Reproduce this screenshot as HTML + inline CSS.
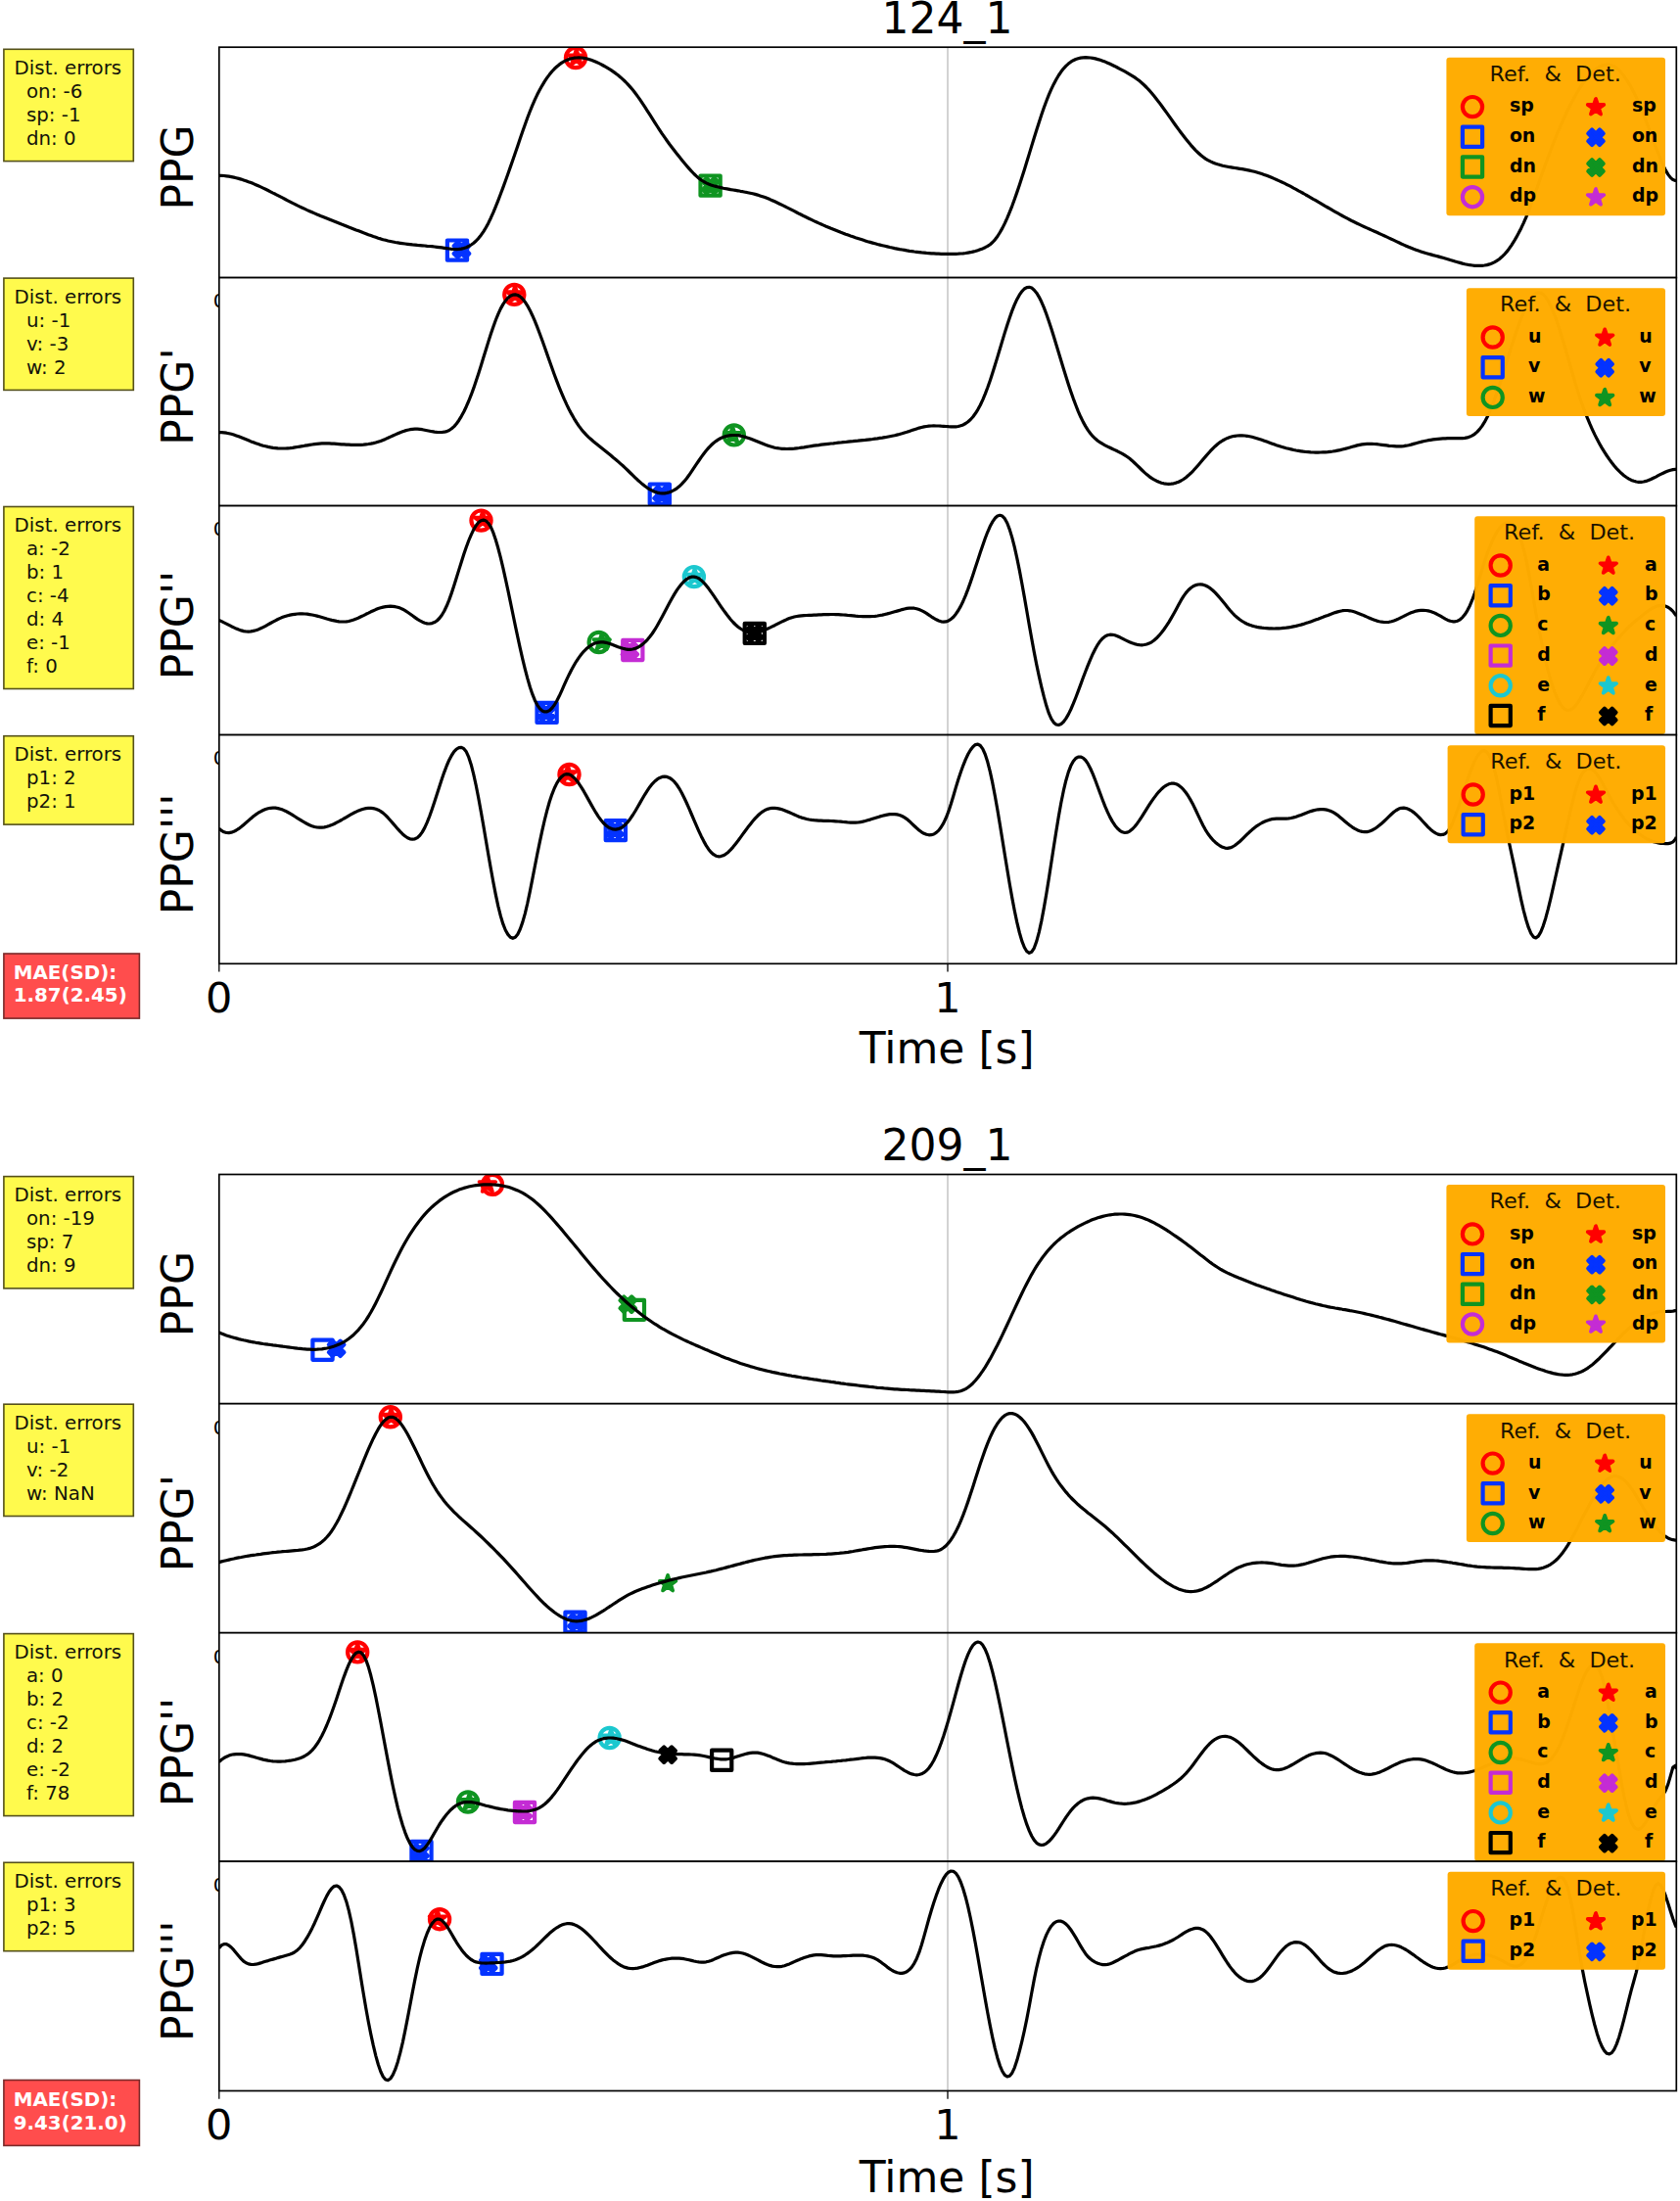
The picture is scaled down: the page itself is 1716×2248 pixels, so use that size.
<!DOCTYPE html>
<html><head><meta charset="utf-8"><title>PPG fiducial points</title>
<style>html,body{margin:0;padding:0;background:#fff}svg{display:block}</style>
</head><body>
<svg width="1716" height="2248" viewBox="0 0 1716 2248">
<rect width="1716" height="2248" fill="#fff"/>
<text x="967.5" y="34" font-family="'DejaVu Sans','Liberation Sans',sans-serif" font-size="44" text-anchor="middle" fill="#000">124_1</text>
<clipPath id="c_p1_ppg"><rect x="223.8" y="48.2" width="1488.5" height="235.4"/></clipPath>
<rect x="223.8" y="48.2" width="1488.5" height="235.4" fill="#fff"/>
<g clip-path="url(#c_p1_ppg)">
<line x1="968" y1="48.2" x2="968" y2="283.6" stroke="#9c9c9c" stroke-width="0.9"/>
<circle cx="588" cy="59" r="10.1" fill="none" stroke="#FF0000" stroke-width="4.2"/>
<rect x="456.9" y="245.5" width="20.2" height="20.2" fill="none" stroke="#0433FF" stroke-width="4.2" stroke-linejoin="round"/>
<rect x="715.5" y="179.5" width="20.2" height="20.2" fill="none" stroke="#0F9421" stroke-width="4.2" stroke-linejoin="round"/>
<path d="M588.7,50.3 586.8,56.3 580.5,56.3 585.6,60 583.6,66 588.7,62.3 593.9,66 591.9,60 597,56.3 590.7,56.3Z" fill="#FF0000" stroke="#FF0000" stroke-width="3.7" stroke-linejoin="round"/>
<path d="M467.5,247.2 471.5,251.2 475.4,247.2 479.3,251.2 475.4,255.1 479.3,259 475.4,262.9 471.5,259 467.5,262.9 463.6,259 467.5,255.1 463.6,251.2Z" fill="#0433FF" stroke="#0433FF" stroke-width="4.0" stroke-linejoin="round"/>
<path d="M721.7,181.8 725.6,185.7 729.5,181.8 733.5,185.7 729.5,189.6 733.5,193.6 729.5,197.5 725.6,193.6 721.7,197.5 717.8,193.6 721.7,189.6 717.8,185.7Z" fill="#0F9421" stroke="#0F9421" stroke-width="4.0" stroke-linejoin="round"/>
<path d="M223.8,179.3 226.3,179.4 228.8,179.5 231.3,179.8 233.8,180.2 236.3,180.6 238.8,181.1 241.3,181.7 243.8,182.4 246.3,183.1 248.8,183.9 251.3,184.7 253.8,185.7 256.3,186.6 258.8,187.6 261.3,188.7 263.8,189.8 266.3,190.9 268.8,192.1 271.3,193.3 273.8,194.5 276.3,195.8 278.8,197.1 281.3,198.3 283.8,199.6 286.3,200.9 288.8,202.2 291.3,203.5 293.8,204.8 296.3,206.1 298.8,207.4 301.3,208.6 303.8,209.9 306.3,211.1 308.8,212.3 311.3,213.4 313.8,214.6 316.3,215.7 318.8,216.8 321.3,217.9 323.8,219 326.3,220 328.8,221.1 331.3,222.1 333.8,223.1 336.3,224.1 338.8,225.1 341.3,226.1 343.8,227.1 346.3,228.1 348.8,229.1 351.3,230 353.8,231 356.3,232 358.8,232.9 361.3,233.9 363.8,234.9 366.3,235.8 368.8,236.8 371.3,237.8 373.8,238.7 376.3,239.7 378.8,240.6 381.3,241.5 383.8,242.3 386.3,243.2 388.8,243.9 391.3,244.7 393.8,245.3 396.3,246 398.8,246.5 401.3,247 403.8,247.5 406.3,247.9 408.8,248.3 411.3,248.7 413.8,249 416.3,249.3 418.8,249.6 421.3,249.9 423.8,250.1 426.3,250.4 428.8,250.6 431.3,250.8 433.8,251 436.3,251.3 438.8,251.5 441.3,251.7 443.8,252 446.3,252.3 448.8,252.6 451.3,252.9 453.8,253.3 456.3,253.7 458.8,254 461.3,254.3 463.8,254.5 466.3,254.6 468.8,254.4 471.3,254.1 473.8,253.5 476.3,252.7 478.8,251.5 481.3,250 483.8,248.2 486.3,246 488.8,243.3 491.3,240.2 493.8,236.6 496.3,232.5 498.8,227.9 501.3,222.7 503.8,217.1 506.3,211.1 508.8,204.8 511.3,198.3 513.8,191.6 516.3,184.7 518.8,177.7 521.3,170.6 523.8,163.4 526.3,156.2 528.8,148.9 531.3,141.5 533.8,134.3 536.3,127.2 538.8,120.3 541.3,113.8 543.8,107.6 546.3,101.9 548.8,96.6 551.3,91.8 553.8,87.3 556.3,83.2 558.8,79.4 561.3,76.1 563.8,73 566.3,70.3 568.8,68 571.3,65.9 573.8,64.1 576.3,62.6 578.8,61.4 581.3,60.4 583.8,59.7 586.3,59.2 588.8,59 591.3,58.9 593.8,59 596.3,59.3 598.8,59.8 601.3,60.5 603.8,61.3 606.3,62.2 608.8,63.2 611.3,64.4 613.8,65.6 616.3,67 618.8,68.4 621.3,69.9 623.8,71.4 626.3,73.1 628.8,74.9 631.3,76.8 633.8,78.9 636.3,81.1 638.8,83.5 641.3,86.1 643.8,88.9 646.3,91.8 648.8,95 651.3,98.4 653.8,101.9 656.3,105.6 658.8,109.4 661.3,113.3 663.8,117.2 666.3,121.1 668.8,125.1 671.3,129 673.8,132.8 676.3,136.6 678.8,140.2 681.3,143.7 683.8,147.2 686.3,150.5 688.8,153.8 691.3,157 693.8,160.1 696.3,163.2 698.8,166.2 701.3,169.2 703.8,172.1 706.3,174.9 708.8,177.5 711.3,179.9 713.8,182.1 716.3,184 718.8,185.5 721.3,186.9 723.8,188 726.3,188.9 728.8,189.7 731.3,190.4 733.8,191 736.3,191.6 738.8,192.2 741.3,192.7 743.8,193.1 746.3,193.6 748.8,194 751.3,194.4 753.8,194.8 756.3,195.3 758.8,195.7 761.3,196.2 763.8,196.7 766.3,197.2 768.8,197.8 771.3,198.4 773.8,199.1 776.3,199.9 778.8,200.7 781.3,201.6 783.8,202.6 786.3,203.6 788.8,204.7 791.3,205.8 793.8,207 796.3,208.2 798.8,209.4 801.3,210.6 803.8,211.9 806.3,213.1 808.8,214.4 811.3,215.7 813.8,217 816.3,218.3 818.8,219.5 821.3,220.8 823.8,222 826.3,223.2 828.8,224.4 831.3,225.6 833.8,226.7 836.3,227.9 838.8,229 841.3,230.1 843.8,231.2 846.3,232.2 848.8,233.3 851.3,234.3 853.8,235.3 856.3,236.3 858.8,237.3 861.3,238.2 863.8,239.2 866.3,240.1 868.8,241 871.3,241.8 873.8,242.7 876.3,243.5 878.8,244.3 881.3,245.1 883.8,245.9 886.3,246.7 888.8,247.4 891.3,248.1 893.8,248.8 896.3,249.5 898.8,250.1 901.3,250.7 903.8,251.3 906.3,251.9 908.8,252.5 911.3,253 913.8,253.6 916.3,254.1 918.8,254.6 921.3,255 923.8,255.4 926.3,255.9 928.8,256.3 931.3,256.6 933.8,257 936.3,257.3 938.8,257.6 941.3,257.9 943.8,258.1 946.3,258.4 948.8,258.6 951.3,258.8 953.8,258.9 956.3,259.1 958.8,259.2 961.3,259.3 963.8,259.4 966.3,259.4 968.8,259.4 971.3,259.4 973.8,259.4 976.3,259.3 978.8,259.2 981.3,259 983.8,258.8 986.3,258.5 988.8,258.1 991.3,257.7 993.8,257.1 996.3,256.5 998.8,255.7 1001.3,254.8 1003.8,253.9 1006.3,252.7 1008.8,251.4 1011.3,249.7 1013.8,247.5 1016.3,244.8 1018.8,241.5 1021.3,237.5 1023.8,233.1 1026.3,228.1 1028.8,222.6 1031.3,216.6 1033.8,210.3 1036.3,203.5 1038.8,196.4 1041.3,189 1043.8,181.3 1046.3,173.4 1048.8,165.3 1051.3,157.1 1053.8,148.9 1056.3,140.7 1058.8,132.7 1061.3,124.9 1063.8,117.3 1066.3,110.1 1068.8,103.3 1071.3,96.9 1073.8,91.1 1076.3,85.9 1078.8,81.2 1081.3,77 1083.8,73.3 1086.3,70.1 1088.8,67.4 1091.3,65.1 1093.8,63.2 1096.3,61.7 1098.8,60.5 1101.3,59.7 1103.8,59.1 1106.3,58.8 1108.8,58.7 1111.3,58.8 1113.8,59 1116.3,59.4 1118.8,59.9 1121.3,60.6 1123.8,61.3 1126.3,62.2 1128.8,63.1 1131.3,64.2 1133.8,65.3 1136.3,66.5 1138.8,67.7 1141.3,69 1143.8,70.3 1146.3,71.6 1148.8,72.9 1151.3,74.3 1153.8,75.8 1156.3,77.3 1158.8,78.9 1161.3,80.7 1163.8,82.6 1166.3,84.7 1168.8,87 1171.3,89.5 1173.8,92.2 1176.3,95 1178.8,98 1181.3,101.2 1183.8,104.4 1186.3,107.8 1188.8,111.2 1191.3,114.6 1193.8,118.1 1196.3,121.7 1198.8,125.2 1201.3,128.7 1203.8,132.1 1206.3,135.5 1208.8,138.8 1211.3,142 1213.8,145.1 1216.3,148.1 1218.8,150.9 1221.3,153.6 1223.8,156 1226.3,158.3 1228.8,160.3 1231.3,162.1 1233.8,163.6 1236.3,164.9 1238.8,166 1241.3,167 1243.8,167.8 1246.3,168.5 1248.8,169.2 1251.3,169.7 1253.8,170.2 1256.3,170.7 1258.8,171.1 1261.3,171.5 1263.8,171.9 1266.3,172.3 1268.8,172.7 1271.3,173.1 1273.8,173.6 1276.3,174.1 1278.8,174.7 1281.3,175.3 1283.8,176 1286.3,176.8 1288.8,177.6 1291.3,178.4 1293.8,179.3 1296.3,180.3 1298.8,181.3 1301.3,182.4 1303.8,183.5 1306.3,184.6 1308.8,185.7 1311.3,186.9 1313.8,188.2 1316.3,189.4 1318.8,190.7 1321.3,192.1 1323.8,193.4 1326.3,194.8 1328.8,196.1 1331.3,197.5 1333.8,199 1336.3,200.4 1338.8,201.8 1341.3,203.3 1343.8,204.7 1346.3,206.2 1348.8,207.6 1351.3,209.1 1353.8,210.6 1356.3,212 1358.8,213.4 1361.3,214.9 1363.8,216.3 1366.3,217.7 1368.8,219.1 1371.3,220.5 1373.8,221.8 1376.3,223.2 1378.8,224.5 1381.3,225.8 1383.8,227 1386.3,228.2 1388.8,229.4 1391.3,230.6 1393.8,231.8 1396.3,232.9 1398.8,234 1401.3,235.1 1403.8,236.2 1406.3,237.3 1408.8,238.5 1411.3,239.6 1413.8,240.7 1416.3,241.9 1418.8,243.1 1421.3,244.3 1423.8,245.4 1426.3,246.6 1428.8,247.8 1431.3,249 1433.8,250.1 1436.3,251.2 1438.8,252.3 1441.3,253.3 1443.8,254.3 1446.3,255.2 1448.8,256.1 1451.3,256.9 1453.8,257.7 1456.3,258.5 1458.8,259.2 1461.3,259.9 1463.8,260.6 1466.3,261.2 1468.8,261.9 1471.3,262.6 1473.8,263.3 1476.3,264 1478.8,264.7 1481.3,265.5 1483.8,266.2 1486.3,267 1488.8,267.7 1491.3,268.4 1493.8,269.1 1496.3,269.7 1498.8,270.2 1501.3,270.7 1503.8,271 1506.3,271.3 1508.8,271.4 1511.3,271.4 1513.8,271.3 1516.3,271 1518.8,270.6 1521.3,269.9 1523.8,269 1526.3,267.9 1528.8,266.4 1531.3,264.7 1533.8,262.6 1536.3,260.2 1538.8,257.4 1541.3,254.2 1543.8,250.6 1546.3,246.7 1548.8,242.4 1551.3,237.8 1553.8,232.9 1556.3,227.6 1558.8,221.9 1561.3,215.7 1563.8,209.2 1566.3,202.3 1568.8,195.3 1571.3,188.2 1573.8,181 1576.3,174 1578.8,167 1581.3,160.3 1583.8,153.7 1586.3,147.2 1588.8,140.9 1591.3,134.9 1593.8,129 1596.3,123.3 1598.8,117.8 1601.3,112.5 1603.8,107.5 1606.3,102.7 1608.8,98.1 1611.3,93.8 1613.8,89.8 1616.3,86 1618.8,82.5 1621.3,79.3 1623.8,76.4 1626.3,73.8 1628.8,71.5 1631.3,69.6 1633.8,68.1 1636.3,67 1638.8,66.3 1641.3,66 1643.8,66.2 1646.3,66.9 1648.8,68 1651.3,69.7 1653.8,71.9 1656.3,74.5 1658.8,77.6 1661.3,81.2 1663.8,85.1 1666.3,89.5 1668.8,94.3 1671.3,99.4 1673.8,104.9 1676.3,110.7 1678.8,116.8 1681.3,123.2 1683.8,129.9 1686.3,136.7 1688.8,143.5 1691.3,150.3 1693.8,156.8 1696.3,163 1698.8,168.8 1701.3,173.9 1703.8,178.1 1706.3,181.4 1708.8,183.6 1711.3,184.5 1712.3,184.4" fill="none" stroke="#000" stroke-width="3.2" stroke-linejoin="round" stroke-linecap="butt"/>
<rect x="1477.4" y="58.8" width="223.6" height="161.4" rx="3" ry="3" fill="#FFAC00" fill-opacity="0.985"/>
<text transform="translate(1588.7,83) scale(1.085,1)" font-family="'DejaVu Sans','Liberation Sans',sans-serif" font-size="20.6" text-anchor="middle" fill="#1a1200" xml:space="preserve">Ref.  &amp;  Det.</text>
<circle cx="1504" cy="109.1" r="10.1" fill="none" stroke="#FF0000" stroke-width="4.2"/>
<text transform="translate(1541.9,114.3) scale(0.945,1)" font-family="'DejaVu Sans','Liberation Sans',sans-serif" font-size="20.0" font-weight="bold" fill="#000">sp</text>
<path d="M1630,100.9 1628,106.9 1621.7,106.9 1626.8,110.6 1624.9,116.6 1630,112.9 1635.1,116.6 1633.2,110.6 1638.3,106.9 1632,106.9Z" fill="#FF0000" stroke="#FF0000" stroke-width="3.7" stroke-linejoin="round"/>
<text transform="translate(1666.9,114.3) scale(0.945,1)" font-family="'DejaVu Sans','Liberation Sans',sans-serif" font-size="20.0" font-weight="bold" fill="#000">sp</text>
<rect x="1493.9" y="129.7" width="20.2" height="20.2" fill="none" stroke="#0433FF" stroke-width="4.2" stroke-linejoin="round"/>
<text transform="translate(1541.9,145) scale(0.945,1)" font-family="'DejaVu Sans','Liberation Sans',sans-serif" font-size="20.0" font-weight="bold" fill="#000">on</text>
<path d="M1626.1,132.4 1630,136.4 1633.9,132.4 1637.8,136.4 1633.9,140.3 1637.8,144.2 1633.9,148.1 1630,144.2 1626.1,148.1 1622.2,144.2 1626.1,140.3 1622.2,136.4Z" fill="#0433FF" stroke="#0433FF" stroke-width="4.0" stroke-linejoin="round"/>
<text transform="translate(1666.9,145) scale(0.945,1)" font-family="'DejaVu Sans','Liberation Sans',sans-serif" font-size="20.0" font-weight="bold" fill="#000">on</text>
<rect x="1493.9" y="160.4" width="20.2" height="20.2" fill="none" stroke="#0F9421" stroke-width="4.2" stroke-linejoin="round"/>
<text transform="translate(1541.9,175.7) scale(0.945,1)" font-family="'DejaVu Sans','Liberation Sans',sans-serif" font-size="20.0" font-weight="bold" fill="#000">dn</text>
<path d="M1626.1,163.2 1630,167.1 1633.9,163.2 1637.8,167.1 1633.9,171 1637.8,174.9 1633.9,178.8 1630,174.9 1626.1,178.8 1622.2,174.9 1626.1,171 1622.2,167.1Z" fill="#0F9421" stroke="#0F9421" stroke-width="4.0" stroke-linejoin="round"/>
<text transform="translate(1666.9,175.7) scale(0.945,1)" font-family="'DejaVu Sans','Liberation Sans',sans-serif" font-size="20.0" font-weight="bold" fill="#000">dn</text>
<circle cx="1504" cy="201.2" r="10.1" fill="none" stroke="#C42CD4" stroke-width="4.2"/>
<text transform="translate(1541.9,206.4) scale(0.945,1)" font-family="'DejaVu Sans','Liberation Sans',sans-serif" font-size="20.0" font-weight="bold" fill="#000">dp</text>
<path d="M1630,193 1628,199 1621.7,199 1626.8,202.7 1624.9,208.7 1630,205 1635.1,208.7 1633.2,202.7 1638.3,199 1632,199Z" fill="#C42CD4" stroke="#C42CD4" stroke-width="3.7" stroke-linejoin="round"/>
<text transform="translate(1666.9,206.4) scale(0.945,1)" font-family="'DejaVu Sans','Liberation Sans',sans-serif" font-size="20.0" font-weight="bold" fill="#000">dp</text>
</g>
<rect x="223.8" y="48.2" width="1488.5" height="235.4" fill="none" stroke="#000" stroke-width="1.7"/>
<text transform="translate(197.4,170.9) rotate(-90)" font-family="'DejaVu Sans','Liberation Sans',sans-serif" font-size="44" text-anchor="middle" fill="#000">PPG</text>
<rect x="3.9" y="50.3" width="132.4" height="114.3" fill="#FFFA4D" stroke="#55511a" stroke-width="1.6"/>
<text x="14.6" y="76" font-family="'DejaVu Sans','Liberation Sans',sans-serif" font-size="19.8" fill="#14140a">Dist. errors</text>
<text x="27" y="99.9" font-family="'DejaVu Sans','Liberation Sans',sans-serif" font-size="19.8" fill="#14140a">on: -6</text>
<text x="27" y="123.8" font-family="'DejaVu Sans','Liberation Sans',sans-serif" font-size="19.8" fill="#14140a">sp: -1</text>
<text x="27" y="147.7" font-family="'DejaVu Sans','Liberation Sans',sans-serif" font-size="19.8" fill="#14140a">dn: 0</text>
<text x="224.1" y="314.4" font-family="'DejaVu Sans','Liberation Sans',sans-serif" font-size="20" text-anchor="middle" fill="#000">0</text>
<clipPath id="c_p1_d1"><rect x="223.8" y="283.6" width="1488.5" height="233"/></clipPath>
<rect x="223.8" y="283.6" width="1488.5" height="233" fill="#fff"/>
<g clip-path="url(#c_p1_d1)">
<line x1="968" y1="283.6" x2="968" y2="516.6" stroke="#9c9c9c" stroke-width="0.9"/>
<circle cx="525.3" cy="300.9" r="10.1" fill="none" stroke="#FF0000" stroke-width="4.2"/>
<rect x="663.7" y="494.5" width="20.2" height="20.2" fill="none" stroke="#0433FF" stroke-width="4.2" stroke-linejoin="round"/>
<circle cx="749.8" cy="444.4" r="10.1" fill="none" stroke="#0F9421" stroke-width="4.2"/>
<path d="M526,292.2 524.1,298.2 517.8,298.2 522.9,301.9 520.9,307.9 526,304.2 531.2,307.9 529.2,301.9 534.3,298.2 528,298.2Z" fill="#FF0000" stroke="#FF0000" stroke-width="3.7" stroke-linejoin="round"/>
<path d="M672.1,497 676,500.9 680,497 683.9,500.9 680,504.8 683.9,508.8 680,512.7 676,508.8 672.1,512.7 668.2,508.8 672.1,504.8 668.2,500.9Z" fill="#0433FF" stroke="#0433FF" stroke-width="4.0" stroke-linejoin="round"/>
<path d="M748.3,435.8 746.4,441.8 740,441.8 745.2,445.5 743.2,451.5 748.3,447.8 753.4,451.5 751.5,445.5 756.6,441.8 750.3,441.8Z" fill="#0F9421" stroke="#0F9421" stroke-width="3.7" stroke-linejoin="round"/>
<path d="M223.8,441.7 226.3,441.7 228.8,441.8 231.3,442.2 233.8,442.7 236.3,443.3 238.8,444 241.3,444.9 243.8,445.8 246.3,446.8 248.8,447.8 251.3,448.8 253.8,449.8 256.3,450.9 258.8,451.8 261.3,452.8 263.8,453.6 266.3,454.4 268.8,455.2 271.3,455.8 273.8,456.4 276.3,456.9 278.8,457.3 281.3,457.6 283.8,457.9 286.3,458 288.8,458 291.3,458 293.8,457.8 296.3,457.6 298.8,457.3 301.3,456.9 303.8,456.5 306.3,456.1 308.8,455.7 311.3,455.2 313.8,454.8 316.3,454.4 318.8,454 321.3,453.6 323.8,453.3 326.3,453.1 328.8,452.9 331.3,452.9 333.8,452.9 336.3,452.9 338.8,453.1 341.3,453.2 343.8,453.4 346.3,453.6 348.8,453.8 351.3,453.9 353.8,454.1 356.3,454.2 358.8,454.3 361.3,454.4 363.8,454.4 366.3,454.4 368.8,454.3 371.3,454.1 373.8,453.8 376.3,453.5 378.8,453.1 381.3,452.6 383.8,452 386.3,451.2 388.8,450.4 391.3,449.4 393.8,448.4 396.3,447.3 398.8,446.1 401.3,445 403.8,443.9 406.3,442.8 408.8,441.7 411.3,440.8 413.8,439.9 416.3,439.2 418.8,438.7 421.3,438.3 423.8,438.1 426.3,438.2 428.8,438.4 431.3,438.7 433.8,439.2 436.3,439.7 438.8,440.2 441.3,440.7 443.8,441.1 446.3,441.4 448.8,441.5 451.3,441.5 453.8,441.2 456.3,440.6 458.8,439.5 461.3,437.8 463.8,435.6 466.3,432.7 468.8,429.2 471.3,425.1 473.8,420.5 476.3,415.2 478.8,409.5 481.3,403.2 483.8,396.4 486.3,389.1 488.8,381.4 491.3,373.5 493.8,365.3 496.3,357.2 498.8,349.1 501.3,341.3 503.8,333.9 506.3,327 508.8,320.8 511.3,315.4 513.8,310.9 516.3,307.2 518.8,304.3 521.3,302.3 523.8,301.2 526.3,300.9 528.8,301.5 531.3,302.9 533.8,305.2 536.3,308.4 538.8,312.3 541.3,316.9 543.8,322.2 546.3,327.9 548.8,334.1 551.3,340.7 553.8,347.5 556.3,354.5 558.8,361.6 561.3,368.7 563.8,375.8 566.3,382.7 568.8,389.4 571.3,395.8 573.8,401.9 576.3,407.7 578.8,413.1 581.3,418.2 583.8,422.9 586.3,427.3 588.8,431.4 591.3,435.1 593.8,438.4 596.3,441.4 598.8,444.1 601.3,446.6 603.8,448.8 606.3,451 608.8,453.1 611.3,455.1 613.8,457.1 616.3,459.1 618.8,461.1 621.3,463.1 623.8,465.1 626.3,467.2 628.8,469.2 631.3,471.4 633.8,473.6 636.3,475.8 638.8,478.1 641.3,480.5 643.8,483 646.3,485.4 648.8,487.8 651.3,490.2 653.8,492.4 656.3,494.6 658.8,496.5 661.3,498.3 663.8,499.9 666.3,501.2 668.8,502.3 671.3,503.1 673.8,503.6 676.3,503.9 678.8,503.8 681.3,503.4 683.8,502.7 686.3,501.7 688.8,500.4 691.3,498.8 693.8,496.8 696.3,494.4 698.8,491.7 701.3,488.7 703.8,485.3 706.3,481.7 708.8,477.9 711.3,474.2 713.8,470.5 716.3,466.9 718.8,463.5 721.3,460.3 723.8,457.4 726.3,454.8 728.8,452.5 731.3,450.6 733.8,448.9 736.3,447.5 738.8,446.4 741.3,445.6 743.8,445 746.3,444.6 748.8,444.5 751.3,444.5 753.8,444.7 756.3,445.1 758.8,445.7 761.3,446.4 763.8,447.2 766.3,448 768.8,449 771.3,450 773.8,451 776.3,452 778.8,453 781.3,454 783.8,454.9 786.3,455.8 788.8,456.5 791.3,457.2 793.8,457.7 796.3,458 798.8,458.3 801.3,458.4 803.8,458.5 806.3,458.4 808.8,458.3 811.3,458.1 813.8,457.8 816.3,457.5 818.8,457.1 821.3,456.8 823.8,456.4 826.3,456 828.8,455.6 831.3,455.2 833.8,454.9 836.3,454.6 838.8,454.2 841.3,453.9 843.8,453.6 846.3,453.3 848.8,453 851.3,452.8 853.8,452.5 856.3,452.2 858.8,452 861.3,451.7 863.8,451.5 866.3,451.2 868.8,450.9 871.3,450.7 873.8,450.4 876.3,450.2 878.8,449.9 881.3,449.6 883.8,449.4 886.3,449.1 888.8,448.8 891.3,448.5 893.8,448.1 896.3,447.8 898.8,447.4 901.3,447.1 903.8,446.7 906.3,446.2 908.8,445.7 911.3,445.2 913.8,444.7 916.3,444.1 918.8,443.5 921.3,442.8 923.8,442 926.3,441.3 928.8,440.4 931.3,439.6 933.8,438.7 936.3,437.9 938.8,437.1 941.3,436.5 943.8,435.9 946.3,435.5 948.8,435.2 951.3,435 953.8,434.9 956.3,435 958.8,435 961.3,435.2 963.8,435.3 966.3,435.5 968.8,435.7 971.3,435.8 973.8,435.9 976.3,435.8 978.8,435.5 981.3,434.8 983.8,433.9 986.3,432.5 988.8,430.7 991.3,428.5 993.8,425.7 996.3,422.3 998.8,418.3 1001.3,413.7 1003.8,408.4 1006.3,402.4 1008.8,395.8 1011.3,388.7 1013.8,381.1 1016.3,373.1 1018.8,364.9 1021.3,356.5 1023.8,348.1 1026.3,339.9 1028.8,331.9 1031.3,324.4 1033.8,317.4 1036.3,311.2 1038.8,305.7 1041.3,301.2 1043.8,297.6 1046.3,295 1048.8,293.6 1051.3,293.3 1053.8,294.1 1056.3,296.2 1058.8,299.2 1061.3,303.3 1063.8,308.3 1066.3,314.1 1068.8,320.7 1071.3,327.9 1073.8,335.6 1076.3,343.6 1078.8,351.8 1081.3,360 1083.8,368.3 1086.3,376.5 1088.8,384.5 1091.3,392.4 1093.8,399.9 1096.3,407.1 1098.8,413.8 1101.3,420.1 1103.8,425.8 1106.3,430.9 1108.8,435.4 1111.3,439.4 1113.8,442.8 1116.3,445.7 1118.8,448.1 1121.3,450.2 1123.8,451.9 1126.3,453.4 1128.8,454.8 1131.3,456.1 1133.8,457.3 1136.3,458.5 1138.8,459.6 1141.3,460.8 1143.8,462.1 1146.3,463.4 1148.8,464.9 1151.3,466.5 1153.8,468.3 1156.3,470.4 1158.8,472.7 1161.3,475.1 1163.8,477.5 1166.3,480 1168.8,482.4 1171.3,484.6 1173.8,486.6 1176.3,488.4 1178.8,489.9 1181.3,491.2 1183.8,492.3 1186.3,493.2 1188.8,493.8 1191.3,494.2 1193.8,494.3 1196.3,494.2 1198.8,493.8 1201.3,493.1 1203.8,492.2 1206.3,491 1208.8,489.5 1211.3,487.7 1213.8,485.6 1216.3,483.3 1218.8,480.8 1221.3,478 1223.8,475.2 1226.3,472.3 1228.8,469.3 1231.3,466.4 1233.8,463.5 1236.3,460.7 1238.8,458.1 1241.3,455.7 1243.8,453.5 1246.3,451.6 1248.8,450 1251.3,448.6 1253.8,447.4 1256.3,446.5 1258.8,445.8 1261.3,445.3 1263.8,445 1266.3,444.8 1268.8,444.9 1271.3,445 1273.8,445.3 1276.3,445.8 1278.8,446.3 1281.3,447 1283.8,447.7 1286.3,448.5 1288.8,449.3 1291.3,450.2 1293.8,451.1 1296.3,452 1298.8,452.9 1301.3,453.8 1303.8,454.7 1306.3,455.5 1308.8,456.3 1311.3,457 1313.8,457.7 1316.3,458.3 1318.8,458.9 1321.3,459.5 1323.8,460 1326.3,460.4 1328.8,460.8 1331.3,461.2 1333.8,461.5 1336.3,461.7 1338.8,461.9 1341.3,462 1343.8,462.1 1346.3,462.1 1348.8,462 1351.3,461.9 1353.8,461.8 1356.3,461.6 1358.8,461.3 1361.3,461 1363.8,460.6 1366.3,460.1 1368.8,459.6 1371.3,459 1373.8,458.4 1376.3,457.7 1378.8,457 1381.3,456.2 1383.8,455.6 1386.3,454.9 1388.8,454.4 1391.3,453.9 1393.8,453.6 1396.3,453.4 1398.8,453.3 1401.3,453.4 1403.8,453.5 1406.3,453.7 1408.8,454 1411.3,454.3 1413.8,454.6 1416.3,454.9 1418.8,455.3 1421.3,455.5 1423.8,455.7 1426.3,455.9 1428.8,455.9 1431.3,455.8 1433.8,455.6 1436.3,455.2 1438.8,454.7 1441.3,454.1 1443.8,453.4 1446.3,452.7 1448.8,452 1451.3,451.4 1453.8,450.7 1456.3,450.2 1458.8,449.7 1461.3,449.3 1463.8,448.9 1466.3,448.6 1468.8,448.3 1471.3,448.1 1473.8,447.9 1476.3,447.8 1478.8,447.7 1481.3,447.6 1483.8,447.6 1486.3,447.6 1488.8,447.6 1491.3,447.6 1493.8,447.6 1496.3,447.4 1498.8,446.9 1501.3,446.1 1503.8,444.9 1506.3,443.3 1508.8,441.1 1511.3,438.4 1513.8,435.1 1516.3,431.2 1518.8,426.5 1521.3,421.2 1523.8,415.1 1526.3,408.5 1528.8,401.4 1531.3,394 1533.8,386.2 1536.3,378.2 1538.8,370.1 1541.3,362 1543.8,354 1546.3,346.2 1548.8,338.7 1551.3,331.5 1553.8,324.8 1556.3,318.7 1558.8,313.2 1561.3,308.4 1563.8,304.5 1566.3,301.6 1568.8,299.7 1571.3,298.8 1573.8,299.2 1576.3,300.8 1578.8,303.5 1581.3,307.3 1583.8,312 1586.3,317.6 1588.8,324.1 1591.3,331.2 1593.8,339 1596.3,347.2 1598.8,355.8 1601.3,364.5 1603.8,373.3 1606.3,382 1608.8,390.4 1611.3,398.6 1613.8,406.2 1616.3,413.5 1618.8,420.3 1621.3,426.7 1623.8,432.7 1626.3,438.3 1628.8,443.6 1631.3,448.6 1633.8,453.2 1636.3,457.6 1638.8,461.7 1641.3,465.5 1643.8,469.1 1646.3,472.5 1648.8,475.7 1651.3,478.6 1653.8,481.2 1656.3,483.6 1658.8,485.7 1661.3,487.5 1663.8,489.1 1666.3,490.4 1668.8,491.3 1671.3,492 1673.8,492.3 1676.3,492.3 1678.8,492 1681.3,491.4 1683.8,490.5 1686.3,489.5 1688.8,488.3 1691.3,487.1 1693.8,485.7 1696.3,484.4 1698.8,483.2 1701.3,482 1703.8,481 1706.3,480.2 1708.8,479.6 1711.3,479.3 1712.3,479.3" fill="none" stroke="#000" stroke-width="3.2" stroke-linejoin="round" stroke-linecap="butt"/>
<rect x="1497.9" y="294.2" width="203.1" height="130.7" rx="3" ry="3" fill="#FFAC00" fill-opacity="0.985"/>
<text transform="translate(1599,318.4) scale(1.085,1)" font-family="'DejaVu Sans','Liberation Sans',sans-serif" font-size="20.6" text-anchor="middle" fill="#1a1200" xml:space="preserve">Ref.  &amp;  Det.</text>
<circle cx="1524.7" cy="344.5" r="10.1" fill="none" stroke="#FF0000" stroke-width="4.2"/>
<text transform="translate(1561.1,349.7) scale(0.945,1)" font-family="'DejaVu Sans','Liberation Sans',sans-serif" font-size="20.0" font-weight="bold" fill="#000">u</text>
<path d="M1639.2,336.3 1637.2,342.3 1630.9,342.3 1636,346 1634.1,352 1639.2,348.3 1644.3,352 1642.4,346 1647.5,342.3 1641.2,342.3Z" fill="#FF0000" stroke="#FF0000" stroke-width="3.7" stroke-linejoin="round"/>
<text transform="translate(1674.3,349.7) scale(0.945,1)" font-family="'DejaVu Sans','Liberation Sans',sans-serif" font-size="20.0" font-weight="bold" fill="#000">u</text>
<rect x="1514.6" y="365.1" width="20.2" height="20.2" fill="none" stroke="#0433FF" stroke-width="4.2" stroke-linejoin="round"/>
<text transform="translate(1561.1,380.4) scale(0.945,1)" font-family="'DejaVu Sans','Liberation Sans',sans-serif" font-size="20.0" font-weight="bold" fill="#000">v</text>
<path d="M1635.3,367.8 1639.2,371.8 1643.1,367.8 1647,371.8 1643.1,375.7 1647,379.6 1643.1,383.6 1639.2,379.6 1635.3,383.6 1631.4,379.6 1635.3,375.7 1631.4,371.8Z" fill="#0433FF" stroke="#0433FF" stroke-width="4.0" stroke-linejoin="round"/>
<text transform="translate(1674.3,380.4) scale(0.945,1)" font-family="'DejaVu Sans','Liberation Sans',sans-serif" font-size="20.0" font-weight="bold" fill="#000">v</text>
<circle cx="1524.7" cy="405.9" r="10.1" fill="none" stroke="#0F9421" stroke-width="4.2"/>
<text transform="translate(1561.1,411.1) scale(0.945,1)" font-family="'DejaVu Sans','Liberation Sans',sans-serif" font-size="20.0" font-weight="bold" fill="#000">w</text>
<path d="M1639.2,397.7 1637.2,403.7 1630.9,403.7 1636,407.4 1634.1,413.4 1639.2,409.7 1644.3,413.4 1642.4,407.4 1647.5,403.7 1641.2,403.7Z" fill="#0F9421" stroke="#0F9421" stroke-width="3.7" stroke-linejoin="round"/>
<text transform="translate(1674.3,411.1) scale(0.945,1)" font-family="'DejaVu Sans','Liberation Sans',sans-serif" font-size="20.0" font-weight="bold" fill="#000">w</text>
</g>
<rect x="223.8" y="283.6" width="1488.5" height="233" fill="none" stroke="#000" stroke-width="1.7"/>
<text transform="translate(197.4,405.1) rotate(-90)" font-family="'DejaVu Sans','Liberation Sans',sans-serif" font-size="44" text-anchor="middle" fill="#000">PPG'</text>
<rect x="3.9" y="284.1" width="132.4" height="114.3" fill="#FFFA4D" stroke="#55511a" stroke-width="1.6"/>
<text x="14.6" y="309.8" font-family="'DejaVu Sans','Liberation Sans',sans-serif" font-size="19.8" fill="#14140a">Dist. errors</text>
<text x="27" y="333.7" font-family="'DejaVu Sans','Liberation Sans',sans-serif" font-size="19.8" fill="#14140a">u: -1</text>
<text x="27" y="357.6" font-family="'DejaVu Sans','Liberation Sans',sans-serif" font-size="19.8" fill="#14140a">v: -3</text>
<text x="27" y="381.5" font-family="'DejaVu Sans','Liberation Sans',sans-serif" font-size="19.8" fill="#14140a">w: 2</text>
<text x="224.1" y="547.4" font-family="'DejaVu Sans','Liberation Sans',sans-serif" font-size="20" text-anchor="middle" fill="#000">0</text>
<clipPath id="c_p1_d2"><rect x="223.8" y="516.6" width="1488.5" height="234"/></clipPath>
<rect x="223.8" y="516.6" width="1488.5" height="234" fill="#fff"/>
<g clip-path="url(#c_p1_d2)">
<line x1="968" y1="516.6" x2="968" y2="750.6" stroke="#9c9c9c" stroke-width="0.9"/>
<circle cx="491.5" cy="531.6" r="10.1" fill="none" stroke="#FF0000" stroke-width="4.2"/>
<rect x="548.5" y="717.8" width="20.2" height="20.2" fill="none" stroke="#0433FF" stroke-width="4.2" stroke-linejoin="round"/>
<circle cx="611.7" cy="656" r="10.1" fill="none" stroke="#0F9421" stroke-width="4.2"/>
<rect x="636.2" y="653.9" width="20.2" height="20.2" fill="none" stroke="#C42CD4" stroke-width="4.2" stroke-linejoin="round"/>
<circle cx="708.9" cy="589.1" r="10.1" fill="none" stroke="#1CC8CF" stroke-width="4.2"/>
<rect x="760.7" y="636.8" width="20.2" height="20.2" fill="none" stroke="#000000" stroke-width="4.2" stroke-linejoin="round"/>
<path d="M493,522.5 491,528.5 484.7,528.5 489.8,532.2 487.9,538.2 493,534.5 498.1,538.2 496.1,532.2 501.3,528.5 494.9,528.5Z" fill="#FF0000" stroke="#FF0000" stroke-width="3.7" stroke-linejoin="round"/>
<path d="M553.9,720.1 557.9,724.1 561.8,720.1 565.7,724.1 561.8,728 565.7,731.9 561.8,735.8 557.9,731.9 553.9,735.8 550,731.9 553.9,728 550,724.1Z" fill="#0433FF" stroke="#0433FF" stroke-width="4.0" stroke-linejoin="round"/>
<path d="M614.7,647.1 612.7,653.2 606.4,653.2 611.5,656.9 609.6,662.9 614.7,659.2 619.8,662.9 617.8,656.9 623,653.2 616.6,653.2Z" fill="#0F9421" stroke="#0F9421" stroke-width="3.7" stroke-linejoin="round"/>
<path d="M639.4,656.5 643.3,660.4 647.2,656.5 651.2,660.4 647.2,664.4 651.2,668.3 647.2,672.2 643.3,668.3 639.4,672.2 635.5,668.3 639.4,664.4 635.5,660.4Z" fill="#C42CD4" stroke="#C42CD4" stroke-width="4.0" stroke-linejoin="round"/>
<path d="M709.6,580.5 707.7,586.5 701.4,586.5 706.5,590.2 704.5,596.2 709.6,592.5 714.8,596.2 712.8,590.2 717.9,586.5 711.6,586.5Z" fill="#1CC8CF" stroke="#1CC8CF" stroke-width="3.7" stroke-linejoin="round"/>
<path d="M766.9,639 770.8,642.9 774.7,639 778.6,642.9 774.7,646.9 778.6,650.8 774.7,654.7 770.8,650.8 766.9,654.7 762.9,650.8 766.9,646.9 762.9,642.9Z" fill="#000000" stroke="#000000" stroke-width="4.0" stroke-linejoin="round"/>
<path d="M223.8,633.5 226.3,634.6 228.8,635.9 231.3,637.1 233.8,638.4 236.3,639.7 238.8,640.9 241.3,642.1 243.8,643.1 246.3,643.9 248.8,644.6 251.3,645 253.8,645.1 256.3,644.9 258.8,644.4 261.3,643.7 263.8,642.9 266.3,641.8 268.8,640.6 271.3,639.3 273.8,637.9 276.3,636.5 278.8,635.1 281.3,633.8 283.8,632.5 286.3,631.4 288.8,630.3 291.3,629.5 293.8,628.7 296.3,628.1 298.8,627.6 301.3,627.3 303.8,627 306.3,626.9 308.8,626.9 311.3,627 313.8,627.2 316.3,627.6 318.8,628 321.3,628.5 323.8,629.1 326.3,629.8 328.8,630.5 331.3,631.2 333.8,632 336.3,632.7 338.8,633.4 341.3,633.9 343.8,634.4 346.3,634.8 348.8,635 351.3,635 353.8,634.9 356.3,634.5 358.8,633.8 361.3,633 363.8,632.1 366.3,631 368.8,629.8 371.3,628.6 373.8,627.3 376.3,626.1 378.8,624.8 381.3,623.7 383.8,622.6 386.3,621.6 388.8,620.8 391.3,620.1 393.8,619.6 396.3,619.3 398.8,619.2 401.3,619.3 403.8,619.7 406.3,620.3 408.8,621.1 411.3,622.2 413.8,623.6 416.3,625.3 418.8,627 421.3,628.8 423.8,630.6 426.3,632.4 428.8,633.9 431.3,635.2 433.8,636.2 436.3,636.9 438.8,637 441.3,636.6 443.8,635.6 446.3,634 448.8,631.5 451.3,628.2 453.8,624 456.3,618.8 458.8,612.6 461.3,605.6 463.8,598.1 466.3,590.1 468.8,581.9 471.3,573.9 473.8,566.1 476.3,558.8 478.8,552 481.3,546.1 483.8,540.9 486.3,536.7 488.8,533.6 491.3,531.7 493.8,531.1 496.3,531.9 498.8,534.3 501.3,538.2 503.8,543.9 506.3,551.2 508.8,559.8 511.3,569.4 513.8,579.9 516.3,591.1 518.8,602.7 521.3,614.7 523.8,626.8 526.3,638.8 528.8,650.7 531.3,662.1 533.8,673.1 536.3,683.4 538.8,692.9 541.3,701.5 543.8,708.9 546.3,715.2 548.8,720.1 551.3,723.6 553.8,725.9 556.3,726.9 558.8,726.8 561.3,725.6 563.8,723.3 566.3,720 568.8,715.8 571.3,710.8 573.8,705.4 576.3,699.7 578.8,694.2 581.3,688.9 583.8,684 586.3,679.5 588.8,675.3 591.3,671.6 593.8,668.3 596.3,665.3 598.8,662.8 601.3,660.7 603.8,659 606.3,657.6 608.8,656.7 611.3,656.1 613.8,655.8 616.3,655.9 618.8,656.3 621.3,657 623.8,657.8 626.3,658.7 628.8,659.7 631.3,660.7 633.8,661.6 636.3,662.3 638.8,662.9 641.3,663.3 643.8,663.3 646.3,663 648.8,662.4 651.3,661.3 653.8,659.9 656.3,658.1 658.8,655.9 661.3,653.3 663.8,650.3 666.3,647 668.8,643.2 671.3,639 673.8,634.5 676.3,629.9 678.8,625.2 681.3,620.4 683.8,615.7 686.3,611.2 688.8,606.9 691.3,602.9 693.8,599.4 696.3,596.3 698.8,593.7 701.3,591.6 703.8,590.1 706.3,589.2 708.8,589.1 711.3,589.6 713.8,590.8 716.3,592.7 718.8,595.1 721.3,597.9 723.8,601.1 726.3,604.6 728.8,608.2 731.3,611.9 733.8,615.7 736.3,619.3 738.8,622.9 741.3,626.3 743.8,629.6 746.3,632.7 748.8,635.5 751.3,638 753.8,640.2 756.3,642 758.8,643.5 761.3,644.6 763.8,645.4 766.3,645.8 768.8,645.9 771.3,645.8 773.8,645.5 776.3,644.9 778.8,644.2 781.3,643.3 783.8,642.2 786.3,641.1 788.8,639.9 791.3,638.7 793.8,637.4 796.3,636.1 798.8,634.9 801.3,633.7 803.8,632.6 806.3,631.6 808.8,630.7 811.3,630 813.8,629.5 816.3,629.1 818.8,628.8 821.3,628.6 823.8,628.5 826.3,628.4 828.8,628.3 831.3,628.2 833.8,628.1 836.3,627.9 838.8,627.8 841.3,627.7 843.8,627.6 846.3,627.6 848.8,627.5 851.3,627.5 853.8,627.6 856.3,627.7 858.8,627.8 861.3,628 863.8,628.2 866.3,628.5 868.8,628.7 871.3,628.9 873.8,629.2 876.3,629.4 878.8,629.5 881.3,629.6 883.8,629.7 886.3,629.7 888.8,629.7 891.3,629.5 893.8,629.3 896.3,629 898.8,628.5 901.3,628.1 903.8,627.5 906.3,626.9 908.8,626.2 911.3,625.5 913.8,624.8 916.3,624.1 918.8,623.4 921.3,622.6 923.8,622 926.3,621.4 928.8,621.1 931.3,621 933.8,621.2 936.3,621.7 938.8,622.5 941.3,623.6 943.8,624.9 946.3,626.4 948.8,628.1 951.3,629.8 953.8,631.4 956.3,632.8 958.8,634 961.3,634.8 963.8,635.1 966.3,634.9 968.8,634 971.3,632.4 973.8,630.2 976.3,627.2 978.8,623.5 981.3,619.1 983.8,614 986.3,608.1 988.8,601.6 991.3,594.6 993.8,587.2 996.3,579.6 998.8,572 1001.3,564.3 1003.8,556.9 1006.3,549.8 1008.8,543.3 1011.3,537.6 1013.8,532.9 1016.3,529.3 1018.8,527 1021.3,526.3 1023.8,527.1 1026.3,529.7 1028.8,534.3 1031.3,540.9 1033.8,549.1 1036.3,558.9 1038.8,570.1 1041.3,582.4 1043.8,595.7 1046.3,609.6 1048.8,624 1051.3,638.4 1053.8,652.5 1056.3,666.1 1058.8,678.9 1061.3,690.7 1063.8,701.6 1066.3,711.7 1068.8,720.8 1071.3,728.4 1073.8,734.1 1076.3,737.9 1078.8,740 1081.3,740.5 1083.8,739.5 1086.3,737.3 1088.8,733.9 1091.3,729.6 1093.8,724.5 1096.3,718.7 1098.8,712.5 1101.3,705.9 1103.8,699.1 1106.3,692.3 1108.8,685.7 1111.3,679.3 1113.8,673.3 1116.3,667.7 1118.8,662.7 1121.3,658.3 1123.8,654.7 1126.3,651.9 1128.8,649.9 1131.3,648.7 1133.8,648.2 1136.3,648.3 1138.8,648.8 1141.3,649.7 1143.8,650.8 1146.3,652.1 1148.8,653.4 1151.3,654.6 1153.8,655.8 1156.3,656.8 1158.8,657.6 1161.3,658.3 1163.8,658.6 1166.3,658.8 1168.8,658.5 1171.3,658 1173.8,657.1 1176.3,655.8 1178.8,654 1181.3,651.8 1183.8,649.2 1186.3,646.3 1188.8,643 1191.3,639.4 1193.8,635.6 1196.3,631.4 1198.8,627 1201.3,622.4 1203.8,617.7 1206.3,613.2 1208.8,609.1 1211.3,605.6 1213.8,602.7 1216.3,600.5 1218.8,598.8 1221.3,597.6 1223.8,597 1226.3,596.9 1228.8,597.2 1231.3,598 1233.8,599.2 1236.3,600.9 1238.8,603 1241.3,605.4 1243.8,608.1 1246.3,611 1248.8,614 1251.3,617.1 1253.8,620.2 1256.3,623.2 1258.8,626 1261.3,628.6 1263.8,630.8 1266.3,632.8 1268.8,634.5 1271.3,636 1273.8,637.2 1276.3,638.3 1278.8,639.1 1281.3,639.8 1283.8,640.4 1286.3,640.8 1288.8,641.2 1291.3,641.5 1293.8,641.7 1296.3,641.9 1298.8,641.9 1301.3,642 1303.8,641.9 1306.3,641.8 1308.8,641.7 1311.3,641.4 1313.8,641.2 1316.3,640.8 1318.8,640.4 1321.3,639.9 1323.8,639.4 1326.3,638.7 1328.8,638.1 1331.3,637.4 1333.8,636.6 1336.3,635.8 1338.8,634.9 1341.3,634 1343.8,633.1 1346.3,632.2 1348.8,631.2 1351.3,630.3 1353.8,629.3 1356.3,628.4 1358.8,627.4 1361.3,626.5 1363.8,625.6 1366.3,624.9 1368.8,624.2 1371.3,623.7 1373.8,623.5 1376.3,623.5 1378.8,623.8 1381.3,624.3 1383.8,625 1386.3,625.9 1388.8,626.9 1391.3,627.9 1393.8,629 1396.3,630.1 1398.8,631.2 1401.3,632.3 1403.8,633.2 1406.3,634.1 1408.8,634.7 1411.3,635.2 1413.8,635.5 1416.3,635.5 1418.8,635.3 1421.3,634.7 1423.8,633.9 1426.3,633 1428.8,631.9 1431.3,630.6 1433.8,629.4 1436.3,628.1 1438.8,626.9 1441.3,625.8 1443.8,624.9 1446.3,624.1 1448.8,623.6 1451.3,623.3 1453.8,623.3 1456.3,623.5 1458.8,623.9 1461.3,624.5 1463.8,625.4 1466.3,626.5 1468.8,627.8 1471.3,629.2 1473.8,630.7 1476.3,632.1 1478.8,633.4 1481.3,634.3 1483.8,634.8 1486.3,634.8 1488.8,634.2 1491.3,632.8 1493.8,630.6 1496.3,627.6 1498.8,623.6 1501.3,618.7 1503.8,612.7 1506.3,605.7 1508.8,597.9 1511.3,589.7 1513.8,581.5 1516.3,573.7 1518.8,566.4 1521.3,559.7 1523.8,553.6 1526.3,548.2 1528.8,543.7 1531.3,539.9 1533.8,537 1536.3,535 1538.8,534 1541.3,534 1543.8,535 1546.3,537.2 1548.8,540.8 1551.3,545.9 1553.8,552.6 1556.3,561.1 1558.8,571.6 1561.3,583.9 1563.8,597.4 1566.3,611.5 1568.8,625.7 1571.3,639.3 1573.8,652.2 1576.3,664.2 1578.8,675.3 1581.3,685.4 1583.8,694.4 1586.3,702.3 1588.8,709 1591.3,714.6 1593.8,719.1 1596.3,722.4 1598.8,724.5 1601.3,725.4 1603.8,725 1606.3,723.6 1608.8,721.3 1611.3,718.1 1613.8,714.3 1616.3,710 1618.8,705.4 1621.3,700.6 1623.8,695.7 1626.3,690.9 1628.8,686.3 1631.3,682 1633.8,677.8 1636.3,673.9 1638.8,670.1 1641.3,666.6 1643.8,663.1 1646.3,659.9 1648.8,656.8 1651.3,653.8 1653.8,650.9 1656.3,648.1 1658.8,645.5 1661.3,642.9 1663.8,640.4 1666.3,638 1668.8,635.7 1671.3,633.5 1673.8,631.4 1676.3,629.4 1678.8,627.4 1681.3,625.5 1683.8,623.8 1686.3,622.1 1688.8,620.7 1691.3,619.6 1693.8,618.8 1696.3,618.4 1698.8,618.5 1701.3,619.1 1703.8,620.2 1706.3,622 1708.8,624.4 1711.3,627.7 1712.3,629.2" fill="none" stroke="#000" stroke-width="3.2" stroke-linejoin="round" stroke-linecap="butt"/>
<rect x="1506.2" y="527.2" width="194.8" height="222.8" rx="3" ry="3" fill="#FFAC00" fill-opacity="0.985"/>
<text transform="translate(1603.1,551.4) scale(1.085,1)" font-family="'DejaVu Sans','Liberation Sans',sans-serif" font-size="20.6" text-anchor="middle" fill="#1a1200" xml:space="preserve">Ref.  &amp;  Det.</text>
<circle cx="1532.7" cy="577.5" r="10.1" fill="none" stroke="#FF0000" stroke-width="4.2"/>
<text transform="translate(1570.3,582.7) scale(0.945,1)" font-family="'DejaVu Sans','Liberation Sans',sans-serif" font-size="20.0" font-weight="bold" fill="#000">a</text>
<path d="M1642.8,569.3 1640.8,575.3 1634.5,575.3 1639.6,579 1637.7,585 1642.8,581.3 1647.9,585 1646,579 1651.1,575.3 1644.8,575.3Z" fill="#FF0000" stroke="#FF0000" stroke-width="3.7" stroke-linejoin="round"/>
<text transform="translate(1680,582.7) scale(0.945,1)" font-family="'DejaVu Sans','Liberation Sans',sans-serif" font-size="20.0" font-weight="bold" fill="#000">a</text>
<rect x="1522.6" y="598.1" width="20.2" height="20.2" fill="none" stroke="#0433FF" stroke-width="4.2" stroke-linejoin="round"/>
<text transform="translate(1570.3,613.4) scale(0.945,1)" font-family="'DejaVu Sans','Liberation Sans',sans-serif" font-size="20.0" font-weight="bold" fill="#000">b</text>
<path d="M1638.9,600.9 1642.8,604.8 1646.7,600.9 1650.6,604.8 1646.7,608.7 1650.6,612.6 1646.7,616.6 1642.8,612.6 1638.9,616.6 1635,612.6 1638.9,608.7 1635,604.8Z" fill="#0433FF" stroke="#0433FF" stroke-width="4.0" stroke-linejoin="round"/>
<text transform="translate(1680,613.4) scale(0.945,1)" font-family="'DejaVu Sans','Liberation Sans',sans-serif" font-size="20.0" font-weight="bold" fill="#000">b</text>
<circle cx="1532.7" cy="638.9" r="10.1" fill="none" stroke="#0F9421" stroke-width="4.2"/>
<text transform="translate(1570.3,644.1) scale(0.945,1)" font-family="'DejaVu Sans','Liberation Sans',sans-serif" font-size="20.0" font-weight="bold" fill="#000">c</text>
<path d="M1642.8,630.7 1640.8,636.7 1634.5,636.7 1639.6,640.4 1637.7,646.4 1642.8,642.7 1647.9,646.4 1646,640.4 1651.1,636.7 1644.8,636.7Z" fill="#0F9421" stroke="#0F9421" stroke-width="3.7" stroke-linejoin="round"/>
<text transform="translate(1680,644.1) scale(0.945,1)" font-family="'DejaVu Sans','Liberation Sans',sans-serif" font-size="20.0" font-weight="bold" fill="#000">c</text>
<rect x="1522.6" y="659.5" width="20.2" height="20.2" fill="none" stroke="#C42CD4" stroke-width="4.2" stroke-linejoin="round"/>
<text transform="translate(1570.3,674.8) scale(0.945,1)" font-family="'DejaVu Sans','Liberation Sans',sans-serif" font-size="20.0" font-weight="bold" fill="#000">d</text>
<path d="M1638.9,662.2 1642.8,666.2 1646.7,662.2 1650.6,666.2 1646.7,670.1 1650.6,674 1646.7,678 1642.8,674 1638.9,678 1635,674 1638.9,670.1 1635,666.2Z" fill="#C42CD4" stroke="#C42CD4" stroke-width="4.0" stroke-linejoin="round"/>
<text transform="translate(1680,674.8) scale(0.945,1)" font-family="'DejaVu Sans','Liberation Sans',sans-serif" font-size="20.0" font-weight="bold" fill="#000">d</text>
<circle cx="1532.7" cy="700.3" r="10.1" fill="none" stroke="#1CC8CF" stroke-width="4.2"/>
<text transform="translate(1570.3,705.5) scale(0.945,1)" font-family="'DejaVu Sans','Liberation Sans',sans-serif" font-size="20.0" font-weight="bold" fill="#000">e</text>
<path d="M1642.8,692.1 1640.8,698.1 1634.5,698.1 1639.6,701.8 1637.7,707.8 1642.8,704.1 1647.9,707.8 1646,701.8 1651.1,698.1 1644.8,698.1Z" fill="#1CC8CF" stroke="#1CC8CF" stroke-width="3.7" stroke-linejoin="round"/>
<text transform="translate(1680,705.5) scale(0.945,1)" font-family="'DejaVu Sans','Liberation Sans',sans-serif" font-size="20.0" font-weight="bold" fill="#000">e</text>
<rect x="1522.6" y="720.9" width="20.2" height="20.2" fill="none" stroke="#000000" stroke-width="4.2" stroke-linejoin="round"/>
<text transform="translate(1570.3,736.2) scale(0.945,1)" font-family="'DejaVu Sans','Liberation Sans',sans-serif" font-size="20.0" font-weight="bold" fill="#000">f</text>
<path d="M1638.9,723.6 1642.8,727.6 1646.7,723.6 1650.6,727.6 1646.7,731.5 1650.6,735.4 1646.7,739.4 1642.8,735.4 1638.9,739.4 1635,735.4 1638.9,731.5 1635,727.6Z" fill="#000000" stroke="#000000" stroke-width="4.0" stroke-linejoin="round"/>
<text transform="translate(1680,736.2) scale(0.945,1)" font-family="'DejaVu Sans','Liberation Sans',sans-serif" font-size="20.0" font-weight="bold" fill="#000">f</text>
</g>
<rect x="223.8" y="516.6" width="1488.5" height="234" fill="none" stroke="#000" stroke-width="1.7"/>
<text transform="translate(197.4,638.6) rotate(-90)" font-family="'DejaVu Sans','Liberation Sans',sans-serif" font-size="44" text-anchor="middle" fill="#000">PPG''</text>
<rect x="3.9" y="517.5" width="132.4" height="186" fill="#FFFA4D" stroke="#55511a" stroke-width="1.6"/>
<text x="14.6" y="543.2" font-family="'DejaVu Sans','Liberation Sans',sans-serif" font-size="19.8" fill="#14140a">Dist. errors</text>
<text x="27" y="567.1" font-family="'DejaVu Sans','Liberation Sans',sans-serif" font-size="19.8" fill="#14140a">a: -2</text>
<text x="27" y="591" font-family="'DejaVu Sans','Liberation Sans',sans-serif" font-size="19.8" fill="#14140a">b: 1</text>
<text x="27" y="614.9" font-family="'DejaVu Sans','Liberation Sans',sans-serif" font-size="19.8" fill="#14140a">c: -4</text>
<text x="27" y="638.8" font-family="'DejaVu Sans','Liberation Sans',sans-serif" font-size="19.8" fill="#14140a">d: 4</text>
<text x="27" y="662.7" font-family="'DejaVu Sans','Liberation Sans',sans-serif" font-size="19.8" fill="#14140a">e: -1</text>
<text x="27" y="686.6" font-family="'DejaVu Sans','Liberation Sans',sans-serif" font-size="19.8" fill="#14140a">f: 0</text>
<text x="224.1" y="781.4" font-family="'DejaVu Sans','Liberation Sans',sans-serif" font-size="20" text-anchor="middle" fill="#000">0</text>
<clipPath id="c_p1_d3"><rect x="223.8" y="750.6" width="1488.5" height="233.7"/></clipPath>
<rect x="223.8" y="750.6" width="1488.5" height="233.7" fill="#fff"/>
<g clip-path="url(#c_p1_d3)">
<line x1="968" y1="750.6" x2="968" y2="984.3" stroke="#9c9c9c" stroke-width="0.9"/>
<circle cx="581.5" cy="791" r="10.1" fill="none" stroke="#FF0000" stroke-width="4.2"/>
<rect x="618.7" y="838" width="20.2" height="20.2" fill="none" stroke="#0433FF" stroke-width="4.2" stroke-linejoin="round"/>
<path d="M580,781.9 578.1,788 571.7,788 576.9,791.7 574.9,797.7 580,794 585.1,797.7 583.2,791.7 588.3,788 582,788Z" fill="#FF0000" stroke="#FF0000" stroke-width="3.7" stroke-linejoin="round"/>
<path d="M624.1,840.2 628.1,844.1 632,840.2 635.9,844.1 632,848.1 635.9,852 632,855.9 628.1,852 624.1,855.9 620.2,852 624.1,848.1 620.2,844.1Z" fill="#0433FF" stroke="#0433FF" stroke-width="4.0" stroke-linejoin="round"/>
<path d="M223.8,846.2 226.3,848.4 228.8,849.8 231.3,850.5 233.8,850.6 236.3,850.2 238.8,849.3 241.3,848 243.8,846.4 246.3,844.5 248.8,842.4 251.3,840.3 253.8,838.1 256.3,835.9 258.8,833.8 261.3,831.9 263.8,830.2 266.3,828.8 268.8,827.5 271.3,826.5 273.8,825.8 276.3,825.3 278.8,825.1 281.3,825.2 283.8,825.6 286.3,826.2 288.8,827.1 291.3,828.2 293.8,829.5 296.3,830.9 298.8,832.4 301.3,834 303.8,835.6 306.3,837.1 308.8,838.7 311.3,840.1 313.8,841.5 316.3,842.7 318.8,843.7 321.3,844.5 323.8,845 326.3,845.2 328.8,845.2 331.3,844.9 333.8,844.3 336.3,843.5 338.8,842.6 341.3,841.5 343.8,840.2 346.3,838.9 348.8,837.5 351.3,836 353.8,834.6 356.3,833.1 358.8,831.7 361.3,830.3 363.8,829.1 366.3,827.9 368.8,827 371.3,826.2 373.8,825.6 376.3,825.3 378.8,825.3 381.3,825.6 383.8,826.2 386.3,827.2 388.8,828.6 391.3,830.4 393.8,832.6 396.3,835.2 398.8,838 401.3,840.9 403.8,843.8 406.3,846.7 408.8,849.4 411.3,851.9 413.8,854 416.3,855.7 418.8,856.8 421.3,857.2 423.8,856.8 426.3,855.6 428.8,853.3 431.3,849.9 433.8,845.4 436.3,839.9 438.8,833.5 441.3,826.5 443.8,819 446.3,811.2 448.8,803.4 451.3,795.8 453.8,788.6 456.3,782 458.8,776.2 461.3,771.5 463.8,767.7 466.3,765.1 468.8,763.7 471.3,763.4 473.8,764.7 476.3,767.8 478.8,773.4 481.3,781.2 483.8,791.1 486.3,802.5 488.8,815.3 491.3,829 493.8,843.3 496.3,858 498.8,872.7 501.3,887 503.8,900.8 506.3,913.6 508.8,925.3 511.3,935.4 513.8,943.7 516.3,950 518.8,954.4 521.3,957.2 523.8,958.3 526.3,957.3 528.8,954.2 531.3,949 533.8,941.9 536.3,933.1 538.8,922.5 541.3,910.6 543.8,897.9 546.3,885 548.8,872.3 551.3,860.1 553.8,848.4 556.3,837.5 558.8,827.6 561.3,818.8 563.8,811.3 566.3,805 568.8,799.9 571.3,795.9 573.8,793.1 576.3,791.3 578.8,790.6 581.3,790.9 583.8,792.2 586.3,794.2 588.8,797 591.3,800.3 593.8,804.1 596.3,808.2 598.8,812.6 601.3,817.1 603.8,821.6 606.3,826 608.8,830.2 611.3,834.1 613.8,837.5 616.3,840.5 618.8,842.9 621.3,844.8 623.8,846.1 626.3,846.9 628.8,847.1 631.3,846.7 633.8,845.8 636.3,844.3 638.8,842.2 641.3,839.5 643.8,836.2 646.3,832.5 648.8,828.5 651.3,824.2 653.8,819.9 656.3,815.5 658.8,811.3 661.3,807.4 663.8,803.7 666.3,800.6 668.8,798 671.3,795.9 673.8,794.4 676.3,793.4 678.8,793.1 681.3,793.4 683.8,794.4 686.3,796.1 688.8,798.4 691.3,801.5 693.8,805.3 696.3,809.7 698.8,814.7 701.3,820 703.8,825.7 706.3,831.5 708.8,837.4 711.3,843.2 713.8,848.8 716.3,854.2 718.8,859.1 721.3,863.6 723.8,867.4 726.3,870.5 728.8,872.7 731.3,874.2 733.8,874.8 736.3,874.6 738.8,873.8 741.3,872.3 743.8,870.4 746.3,867.9 748.8,865.1 751.3,862 753.8,858.8 756.3,855.4 758.8,851.9 761.3,848.5 763.8,845.1 766.3,841.9 768.8,838.8 771.3,835.9 773.8,833.3 776.3,831 778.8,829.1 781.3,827.5 783.8,826.4 786.3,825.7 788.8,825.4 791.3,825.4 793.8,825.6 796.3,826.1 798.8,826.8 801.3,827.7 803.8,828.7 806.3,829.8 808.8,830.9 811.3,832 813.8,833.1 816.3,834.2 818.8,835.1 821.3,835.8 823.8,836.5 826.3,837 828.8,837.4 831.3,837.7 833.8,837.9 836.3,838.1 838.8,838.2 841.3,838.3 843.8,838.4 846.3,838.4 848.8,838.5 851.3,838.6 853.8,838.8 856.3,839 858.8,839.2 861.3,839.5 863.8,839.7 866.3,840 868.8,840.1 871.3,840.2 873.8,840.2 876.3,840 878.8,839.6 881.3,839.1 883.8,838.5 886.3,837.8 888.8,837.1 891.3,836.3 893.8,835.5 896.3,834.7 898.8,833.9 901.3,833.2 903.8,832.6 906.3,832.1 908.8,831.7 911.3,831.5 913.8,831.6 916.3,831.9 918.8,832.5 921.3,833.5 923.8,834.9 926.3,836.6 928.8,838.7 931.3,841.1 933.8,843.5 936.3,845.8 938.8,847.9 941.3,849.8 943.8,851.3 946.3,852.3 948.8,852.8 951.3,852.7 953.8,852 956.3,850.4 958.8,848.1 961.3,844.8 963.8,840.6 966.3,835.3 968.8,828.9 971.3,821.3 973.8,813 976.3,804.4 978.8,796.3 981.3,788.7 983.8,781.8 986.3,775.6 988.8,770.3 991.3,766 993.8,762.7 996.3,760.6 998.8,760.1 1001.3,761.5 1003.8,764.9 1006.3,770.5 1008.8,778.3 1011.3,788.1 1013.8,799.7 1016.3,812.7 1018.8,826.8 1021.3,841.8 1023.8,857.2 1026.3,872.7 1028.8,888.1 1031.3,903 1033.8,917.1 1036.3,930.3 1038.8,942.2 1041.3,952.5 1043.8,961.1 1046.3,967.5 1048.8,971.7 1051.3,973.3 1053.8,972.2 1056.3,968.3 1058.8,961.4 1061.3,952.1 1063.8,940.6 1066.3,927.4 1068.8,912.9 1071.3,897.4 1073.8,881.3 1076.3,865.1 1078.8,849.2 1081.3,834 1083.8,820 1086.3,807.7 1088.8,797.2 1091.3,788.6 1093.8,782.1 1096.3,777.5 1098.8,774.5 1101.3,773.1 1103.8,773 1106.3,774.1 1108.8,776.5 1111.3,780.2 1113.8,785 1116.3,790.7 1118.8,797 1121.3,803.7 1123.8,810.5 1126.3,817.2 1128.8,823.6 1131.3,829.4 1133.8,834.6 1136.3,839.1 1138.8,842.9 1141.3,846 1143.8,848.3 1146.3,849.8 1148.8,850.5 1151.3,850.2 1153.8,849.1 1156.3,847.1 1158.8,844.5 1161.3,841.4 1163.8,837.9 1166.3,834.1 1168.8,830.1 1171.3,826.1 1173.8,822.2 1176.3,818.4 1178.8,814.9 1181.3,811.6 1183.8,808.6 1186.3,806 1188.8,803.8 1191.3,802.1 1193.8,800.8 1196.3,800.2 1198.8,800.1 1201.3,800.7 1203.8,802 1206.3,803.9 1208.8,806.4 1211.3,809.5 1213.8,813.2 1216.3,817.4 1218.8,822.1 1221.3,827.3 1223.8,832.6 1226.3,837.9 1228.8,843 1231.3,847.6 1233.8,851.5 1236.3,854.9 1238.8,857.8 1241.3,860.2 1243.8,862.3 1246.3,864 1248.8,865.3 1251.3,866.1 1253.8,866.4 1256.3,865.9 1258.8,865 1261.3,863.5 1263.8,861.6 1266.3,859.5 1268.8,857.1 1271.3,854.7 1273.8,852.2 1276.3,849.8 1278.8,847.6 1281.3,845.5 1283.8,843.6 1286.3,842 1288.8,840.5 1291.3,839.3 1293.8,838.2 1296.3,837.4 1298.8,836.7 1301.3,836.3 1303.8,836.1 1306.3,836.1 1308.8,836.1 1311.3,836.1 1313.8,836.1 1316.3,835.9 1318.8,835.5 1321.3,834.9 1323.8,834.2 1326.3,833.3 1328.8,832.4 1331.3,831.4 1333.8,830.4 1336.3,829.5 1338.8,828.6 1341.3,827.9 1343.8,827.3 1346.3,826.8 1348.8,826.6 1351.3,826.6 1353.8,826.9 1356.3,827.4 1358.8,828.2 1361.3,829.4 1363.8,830.9 1366.3,832.6 1368.8,834.7 1371.3,836.8 1373.8,838.9 1376.3,841 1378.8,843 1381.3,844.8 1383.8,846.4 1386.3,847.7 1388.8,848.7 1391.3,849.4 1393.8,849.7 1396.3,849.6 1398.8,849 1401.3,848 1403.8,846.7 1406.3,845 1408.8,843.1 1411.3,841 1413.8,838.7 1416.3,836.3 1418.8,833.9 1421.3,831.5 1423.8,829.3 1426.3,827.5 1428.8,826.1 1431.3,825.3 1433.8,825.2 1436.3,825.6 1438.8,826.5 1441.3,827.8 1443.8,829.6 1446.3,831.7 1448.8,834.1 1451.3,836.7 1453.8,839.5 1456.3,842.2 1458.8,844.8 1461.3,847.2 1463.8,849.2 1466.3,850.9 1468.8,852.1 1471.3,852.6 1473.8,852.4 1476.3,851.4 1478.8,849.1 1481.3,845.3 1483.8,840.1 1486.3,833.9 1488.8,827 1491.3,819.7 1493.8,812 1496.3,804.3 1498.8,796.8 1501.3,789.6 1503.8,783.1 1506.3,777.3 1508.8,772.6 1511.3,769.1 1513.8,767.1 1516.3,766.7 1518.8,768.1 1521.3,771.7 1523.8,777.4 1526.3,785.4 1528.8,795.8 1531.3,808.1 1533.8,821.4 1536.3,834.8 1538.8,847.6 1541.3,859.8 1543.8,871.5 1546.3,883.2 1548.8,895.2 1551.3,907.4 1553.8,919.3 1556.3,930.1 1558.8,939.5 1561.3,947.4 1563.8,953.3 1566.3,956.9 1568.8,957.9 1571.3,956.1 1573.8,951.9 1576.3,945.6 1578.8,937.7 1581.3,928.4 1583.8,918.1 1586.3,907.2 1588.8,896 1591.3,884.8 1593.8,873.8 1596.3,862.9 1598.8,851.6 1601.3,840.3 1603.8,829.1 1606.3,818.6 1608.8,809.1 1611.3,801.1 1613.8,794.8 1616.3,790.1 1618.8,787 1621.3,785.4 1623.8,785.1 1626.3,786 1628.8,788 1631.3,791 1633.8,794.6 1636.3,798.8 1638.8,803.4 1641.3,808.2 1643.8,812.9 1646.3,817.5 1648.8,821.7 1651.3,825.7 1653.8,829.5 1656.3,833 1658.8,836.2 1661.3,839.3 1663.8,842.1 1666.3,844.7 1668.8,847.1 1671.3,849.4 1673.8,851.4 1676.3,853.2 1678.8,854.8 1681.3,856.3 1683.8,857.6 1686.3,858.6 1688.8,859.6 1691.3,860.3 1693.8,860.9 1696.3,861.3 1698.8,861.5 1701.3,861.6 1703.8,861.6 1706.3,861.2 1708.8,859.9 1711.3,856.9 1712.3,855" fill="none" stroke="#000" stroke-width="3.2" stroke-linejoin="round" stroke-linecap="butt"/>
<rect x="1478.6" y="761.2" width="222.4" height="100" rx="3" ry="3" fill="#FFAC00" fill-opacity="0.985"/>
<text transform="translate(1589.3,785.4) scale(1.085,1)" font-family="'DejaVu Sans','Liberation Sans',sans-serif" font-size="20.6" text-anchor="middle" fill="#1a1200" xml:space="preserve">Ref.  &amp;  Det.</text>
<circle cx="1504.7" cy="811.5" r="10.1" fill="none" stroke="#FF0000" stroke-width="4.2"/>
<text transform="translate(1541.5,816.7) scale(0.945,1)" font-family="'DejaVu Sans','Liberation Sans',sans-serif" font-size="20.0" font-weight="bold" fill="#000">p1</text>
<path d="M1630,803.3 1628,809.3 1621.7,809.3 1626.8,813 1624.9,819 1630,815.3 1635.1,819 1633.2,813 1638.3,809.3 1632,809.3Z" fill="#FF0000" stroke="#FF0000" stroke-width="3.7" stroke-linejoin="round"/>
<text transform="translate(1666,816.7) scale(0.945,1)" font-family="'DejaVu Sans','Liberation Sans',sans-serif" font-size="20.0" font-weight="bold" fill="#000">p1</text>
<rect x="1494.6" y="832.1" width="20.2" height="20.2" fill="none" stroke="#0433FF" stroke-width="4.2" stroke-linejoin="round"/>
<text transform="translate(1541.5,847.4) scale(0.945,1)" font-family="'DejaVu Sans','Liberation Sans',sans-serif" font-size="20.0" font-weight="bold" fill="#000">p2</text>
<path d="M1626.1,834.9 1630,838.8 1633.9,834.9 1637.8,838.8 1633.9,842.7 1637.8,846.6 1633.9,850.6 1630,846.6 1626.1,850.6 1622.2,846.6 1626.1,842.7 1622.2,838.8Z" fill="#0433FF" stroke="#0433FF" stroke-width="4.0" stroke-linejoin="round"/>
<text transform="translate(1666,847.4) scale(0.945,1)" font-family="'DejaVu Sans','Liberation Sans',sans-serif" font-size="20.0" font-weight="bold" fill="#000">p2</text>
</g>
<rect x="223.8" y="750.6" width="1488.5" height="233.7" fill="none" stroke="#000" stroke-width="1.7"/>
<text transform="translate(197.4,872.5) rotate(-90)" font-family="'DejaVu Sans','Liberation Sans',sans-serif" font-size="44" text-anchor="middle" fill="#000">PPG'''</text>
<rect x="3.9" y="751.7" width="132.4" height="90.4" fill="#FFFA4D" stroke="#55511a" stroke-width="1.6"/>
<text x="14.6" y="777.4" font-family="'DejaVu Sans','Liberation Sans',sans-serif" font-size="19.8" fill="#14140a">Dist. errors</text>
<text x="27" y="801.3" font-family="'DejaVu Sans','Liberation Sans',sans-serif" font-size="19.8" fill="#14140a">p1: 2</text>
<text x="27" y="825.2" font-family="'DejaVu Sans','Liberation Sans',sans-serif" font-size="19.8" fill="#14140a">p2: 1</text>
<line x1="223.8" y1="984.3" x2="223.8" y2="992.6" stroke="#000" stroke-width="1.3"/>
<text x="223.8" y="1034.1" font-family="'DejaVu Sans','Liberation Sans',sans-serif" font-size="43" text-anchor="middle" fill="#000">0</text>
<line x1="968" y1="984.3" x2="968" y2="992.6" stroke="#000" stroke-width="1.3"/>
<text x="968" y="1034.1" font-family="'DejaVu Sans','Liberation Sans',sans-serif" font-size="43" text-anchor="middle" fill="#000">1</text>
<text x="967.2" y="1085.8" font-family="'DejaVu Sans','Liberation Sans',sans-serif" font-size="44" text-anchor="middle" fill="#000">Time [s]</text>
<rect x="3.9" y="974" width="138.5" height="66.1" fill="#FF4D4D" stroke="#7a2a2a" stroke-width="1.6"/>
<text x="13.7" y="999.5" font-family="'DejaVu Sans','Liberation Sans',sans-serif" font-size="19.85" font-weight="bold" fill="#fff">MAE(SD):</text>
<text x="13.7" y="1023.4" font-family="'DejaVu Sans','Liberation Sans',sans-serif" font-size="19.85" font-weight="bold" fill="#fff">1.87(2.45)</text>
<text x="967.5" y="1185.3" font-family="'DejaVu Sans','Liberation Sans',sans-serif" font-size="44" text-anchor="middle" fill="#000">209_1</text>
<clipPath id="c_p2_ppg"><rect x="223.8" y="1199.5" width="1488.5" height="234.2"/></clipPath>
<rect x="223.8" y="1199.5" width="1488.5" height="234.2" fill="#fff"/>
<g clip-path="url(#c_p2_ppg)">
<line x1="968" y1="1199.5" x2="968" y2="1433.7" stroke="#9c9c9c" stroke-width="0.9"/>
<circle cx="503" cy="1209.9" r="10.1" fill="none" stroke="#FF0000" stroke-width="4.2"/>
<rect x="319.4" y="1368.6" width="20.2" height="20.2" fill="none" stroke="#0433FF" stroke-width="4.2" stroke-linejoin="round"/>
<rect x="637.8" y="1327.8" width="20.2" height="20.2" fill="none" stroke="#0F9421" stroke-width="4.2" stroke-linejoin="round"/>
<path d="M497.8,1201.1 495.8,1207.1 489.5,1207.1 494.6,1210.8 492.7,1216.9 497.8,1213.1 502.9,1216.9 501,1210.8 506.1,1207.1 499.7,1207.1Z" fill="#FF0000" stroke="#FF0000" stroke-width="3.7" stroke-linejoin="round"/>
<path d="M339.7,1369.5 343.6,1373.4 347.6,1369.5 351.5,1373.4 347.6,1377.3 351.5,1381.2 347.6,1385.1 343.6,1381.2 339.7,1385.1 335.8,1381.2 339.7,1377.3 335.8,1373.4Z" fill="#0433FF" stroke="#0433FF" stroke-width="4.0" stroke-linejoin="round"/>
<path d="M637.3,1324.3 641.2,1328.2 645.1,1324.3 649.1,1328.2 645.1,1332.2 649.1,1336.1 645.1,1340 641.2,1336.1 637.3,1340 633.4,1336.1 637.3,1332.2 633.4,1328.2Z" fill="#0F9421" stroke="#0F9421" stroke-width="4.0" stroke-linejoin="round"/>
<path d="M223.8,1361.1 226.3,1362.1 228.8,1363 231.3,1363.9 233.8,1364.7 236.3,1365.5 238.8,1366.2 241.3,1366.9 243.8,1367.6 246.3,1368.2 248.8,1368.8 251.3,1369.3 253.8,1369.9 256.3,1370.4 258.8,1370.8 261.3,1371.3 263.8,1371.7 266.3,1372.1 268.8,1372.5 271.3,1372.8 273.8,1373.2 276.3,1373.5 278.8,1373.9 281.3,1374.2 283.8,1374.5 286.3,1374.8 288.8,1375.2 291.3,1375.5 293.8,1375.8 296.3,1376.2 298.8,1376.5 301.3,1376.8 303.8,1377.2 306.3,1377.4 308.8,1377.7 311.3,1377.9 313.8,1378.1 316.3,1378.2 318.8,1378.3 321.3,1378.3 323.8,1378.2 326.3,1378 328.8,1377.8 331.3,1377.4 333.8,1377 336.3,1376.5 338.8,1375.8 341.3,1375 343.8,1374.1 346.3,1373.1 348.8,1371.9 351.3,1370.6 353.8,1369 356.3,1367.3 358.8,1365.3 361.3,1363.2 363.8,1360.7 366.3,1358.1 368.8,1355.1 371.3,1351.9 373.8,1348.3 376.3,1344.5 378.8,1340.3 381.3,1335.8 383.8,1330.9 386.3,1325.9 388.8,1320.7 391.3,1315.3 393.8,1309.8 396.3,1304.4 398.8,1298.9 401.3,1293.5 403.8,1288.3 406.3,1283.2 408.8,1278.3 411.3,1273.5 413.8,1269 416.3,1264.7 418.8,1260.6 421.3,1256.8 423.8,1253.1 426.3,1249.7 428.8,1246.4 431.3,1243.3 433.8,1240.4 436.3,1237.7 438.8,1235.1 441.3,1232.7 443.8,1230.5 446.3,1228.4 448.8,1226.4 451.3,1224.6 453.8,1222.9 456.3,1221.3 458.8,1219.9 461.3,1218.5 463.8,1217.3 466.3,1216.2 468.8,1215.1 471.3,1214.2 473.8,1213.4 476.3,1212.7 478.8,1212 481.3,1211.5 483.8,1211 486.3,1210.6 488.8,1210.3 491.3,1210.1 493.8,1209.9 496.3,1209.8 498.8,1209.8 501.3,1209.9 503.8,1210 506.3,1210.1 508.8,1210.4 511.3,1210.8 513.8,1211.2 516.3,1211.7 518.8,1212.3 521.3,1213.1 523.8,1213.9 526.3,1214.9 528.8,1215.9 531.3,1217.1 533.8,1218.4 536.3,1219.9 538.8,1221.5 541.3,1223.2 543.8,1225.1 546.3,1227.1 548.8,1229.3 551.3,1231.5 553.8,1233.9 556.3,1236.4 558.8,1239 561.3,1241.7 563.8,1244.4 566.3,1247.2 568.8,1250.1 571.3,1253 573.8,1255.9 576.3,1258.9 578.8,1261.9 581.3,1264.9 583.8,1268 586.3,1271 588.8,1274.1 591.3,1277.1 593.8,1280.2 596.3,1283.2 598.8,1286.2 601.3,1289.2 603.8,1292.2 606.3,1295.1 608.8,1298 611.3,1300.9 613.8,1303.7 616.3,1306.5 618.8,1309.2 621.3,1311.9 623.8,1314.5 626.3,1317.1 628.8,1319.6 631.3,1322 633.8,1324.4 636.3,1326.7 638.8,1329 641.3,1331.2 643.8,1333.4 646.3,1335.5 648.8,1337.6 651.3,1339.6 653.8,1341.6 656.3,1343.5 658.8,1345.3 661.3,1347.1 663.8,1348.8 666.3,1350.5 668.8,1352.2 671.3,1353.7 673.8,1355.3 676.3,1356.8 678.8,1358.2 681.3,1359.6 683.8,1361 686.3,1362.3 688.8,1363.6 691.3,1364.9 693.8,1366.1 696.3,1367.4 698.8,1368.6 701.3,1369.7 703.8,1370.9 706.3,1372 708.8,1373.1 711.3,1374.2 713.8,1375.3 716.3,1376.4 718.8,1377.5 721.3,1378.6 723.8,1379.6 726.3,1380.7 728.8,1381.8 731.3,1382.8 733.8,1383.8 736.3,1384.9 738.8,1385.9 741.3,1386.9 743.8,1387.8 746.3,1388.8 748.8,1389.7 751.3,1390.6 753.8,1391.5 756.3,1392.4 758.8,1393.2 761.3,1394 763.8,1394.8 766.3,1395.6 768.8,1396.3 771.3,1397 773.8,1397.7 776.3,1398.4 778.8,1399 781.3,1399.6 783.8,1400.2 786.3,1400.8 788.8,1401.4 791.3,1401.9 793.8,1402.4 796.3,1403 798.8,1403.4 801.3,1403.9 803.8,1404.4 806.3,1404.8 808.8,1405.3 811.3,1405.7 813.8,1406.1 816.3,1406.5 818.8,1407 821.3,1407.3 823.8,1407.7 826.3,1408.1 828.8,1408.5 831.3,1408.9 833.8,1409.2 836.3,1409.6 838.8,1410 841.3,1410.3 843.8,1410.7 846.3,1411 848.8,1411.4 851.3,1411.7 853.8,1412.1 856.3,1412.4 858.8,1412.8 861.3,1413.1 863.8,1413.5 866.3,1413.8 868.8,1414.1 871.3,1414.4 873.8,1414.7 876.3,1415 878.8,1415.3 881.3,1415.6 883.8,1415.9 886.3,1416.2 888.8,1416.5 891.3,1416.7 893.8,1417 896.3,1417.3 898.8,1417.5 901.3,1417.7 903.8,1418 906.3,1418.2 908.8,1418.4 911.3,1418.6 913.8,1418.8 916.3,1418.9 918.8,1419.1 921.3,1419.3 923.8,1419.4 926.3,1419.5 928.8,1419.7 931.3,1419.8 933.8,1419.9 936.3,1420.1 938.8,1420.2 941.3,1420.3 943.8,1420.4 946.3,1420.6 948.8,1420.7 951.3,1420.8 953.8,1420.9 956.3,1421.1 958.8,1421.2 961.3,1421.4 963.8,1421.5 966.3,1421.7 968.8,1421.8 971.3,1421.9 973.8,1421.9 976.3,1421.7 978.8,1421.3 981.3,1420.7 983.8,1419.8 986.3,1418.6 988.8,1417 991.3,1415 993.8,1412.7 996.3,1410 998.8,1407 1001.3,1403.7 1003.8,1400.1 1006.3,1396.3 1008.8,1392.2 1011.3,1387.9 1013.8,1383.3 1016.3,1378.6 1018.8,1373.8 1021.3,1368.7 1023.8,1363.6 1026.3,1358.3 1028.8,1353 1031.3,1347.6 1033.8,1342.2 1036.3,1336.8 1038.8,1331.5 1041.3,1326.2 1043.8,1321 1046.3,1315.9 1048.8,1311 1051.3,1306.2 1053.8,1301.6 1056.3,1297.3 1058.8,1293.2 1061.3,1289.4 1063.8,1285.8 1066.3,1282.4 1068.8,1279.3 1071.3,1276.3 1073.8,1273.6 1076.3,1271 1078.8,1268.6 1081.3,1266.4 1083.8,1264.3 1086.3,1262.4 1088.8,1260.5 1091.3,1258.8 1093.8,1257.2 1096.3,1255.6 1098.8,1254.2 1101.3,1252.7 1103.8,1251.4 1106.3,1250.1 1108.8,1248.9 1111.3,1247.7 1113.8,1246.6 1116.3,1245.6 1118.8,1244.7 1121.3,1243.8 1123.8,1243.1 1126.3,1242.4 1128.8,1241.8 1131.3,1241.3 1133.8,1240.8 1136.3,1240.5 1138.8,1240.2 1141.3,1240.1 1143.8,1240 1146.3,1240 1148.8,1240.1 1151.3,1240.3 1153.8,1240.6 1156.3,1241 1158.8,1241.5 1161.3,1242.1 1163.8,1242.8 1166.3,1243.6 1168.8,1244.4 1171.3,1245.4 1173.8,1246.5 1176.3,1247.7 1178.8,1248.9 1181.3,1250.3 1183.8,1251.7 1186.3,1253.1 1188.8,1254.6 1191.3,1256.2 1193.8,1257.8 1196.3,1259.5 1198.8,1261.2 1201.3,1262.9 1203.8,1264.6 1206.3,1266.4 1208.8,1268.2 1211.3,1270 1213.8,1271.9 1216.3,1273.8 1218.8,1275.7 1221.3,1277.7 1223.8,1279.7 1226.3,1281.7 1228.8,1283.6 1231.3,1285.6 1233.8,1287.5 1236.3,1289.4 1238.8,1291.2 1241.3,1292.9 1243.8,1294.5 1246.3,1296.1 1248.8,1297.5 1251.3,1298.8 1253.8,1300.1 1256.3,1301.3 1258.8,1302.4 1261.3,1303.5 1263.8,1304.5 1266.3,1305.6 1268.8,1306.6 1271.3,1307.6 1273.8,1308.6 1276.3,1309.5 1278.8,1310.5 1281.3,1311.4 1283.8,1312.4 1286.3,1313.3 1288.8,1314.2 1291.3,1315.1 1293.8,1315.9 1296.3,1316.8 1298.8,1317.7 1301.3,1318.5 1303.8,1319.4 1306.3,1320.2 1308.8,1321.1 1311.3,1321.9 1313.8,1322.7 1316.3,1323.5 1318.8,1324.3 1321.3,1325.1 1323.8,1325.9 1326.3,1326.7 1328.8,1327.5 1331.3,1328.2 1333.8,1329 1336.3,1329.7 1338.8,1330.4 1341.3,1331 1343.8,1331.7 1346.3,1332.3 1348.8,1332.9 1351.3,1333.5 1353.8,1334 1356.3,1334.6 1358.8,1335.1 1361.3,1335.5 1363.8,1336 1366.3,1336.4 1368.8,1336.8 1371.3,1337.3 1373.8,1337.7 1376.3,1338.1 1378.8,1338.6 1381.3,1339 1383.8,1339.5 1386.3,1340 1388.8,1340.5 1391.3,1341 1393.8,1341.6 1396.3,1342.2 1398.8,1342.8 1401.3,1343.4 1403.8,1344 1406.3,1344.6 1408.8,1345.3 1411.3,1345.9 1413.8,1346.6 1416.3,1347.2 1418.8,1347.9 1421.3,1348.6 1423.8,1349.3 1426.3,1350 1428.8,1350.7 1431.3,1351.5 1433.8,1352.2 1436.3,1352.9 1438.8,1353.6 1441.3,1354.3 1443.8,1355 1446.3,1355.8 1448.8,1356.5 1451.3,1357.2 1453.8,1357.9 1456.3,1358.6 1458.8,1359.3 1461.3,1360 1463.8,1360.7 1466.3,1361.4 1468.8,1362.1 1471.3,1362.8 1473.8,1363.4 1476.3,1364.1 1478.8,1364.8 1481.3,1365.5 1483.8,1366.2 1486.3,1366.9 1488.8,1367.6 1491.3,1368.3 1493.8,1369.1 1496.3,1369.8 1498.8,1370.6 1501.3,1371.3 1503.8,1372.1 1506.3,1372.9 1508.8,1373.7 1511.3,1374.5 1513.8,1375.3 1516.3,1376.1 1518.8,1377 1521.3,1377.9 1523.8,1378.8 1526.3,1379.7 1528.8,1380.6 1531.3,1381.6 1533.8,1382.6 1536.3,1383.6 1538.8,1384.6 1541.3,1385.7 1543.8,1386.7 1546.3,1387.8 1548.8,1388.8 1551.3,1389.9 1553.8,1390.9 1556.3,1392 1558.8,1393 1561.3,1394 1563.8,1395 1566.3,1396 1568.8,1397 1571.3,1397.9 1573.8,1398.8 1576.3,1399.6 1578.8,1400.5 1581.3,1401.2 1583.8,1401.9 1586.3,1402.6 1588.8,1403.1 1591.3,1403.6 1593.8,1404 1596.3,1404.2 1598.8,1404.3 1601.3,1404.3 1603.8,1404.1 1606.3,1403.8 1608.8,1403.2 1611.3,1402.5 1613.8,1401.6 1616.3,1400.5 1618.8,1399.2 1621.3,1397.6 1623.8,1395.8 1626.3,1393.9 1628.8,1391.8 1631.3,1389.5 1633.8,1387.2 1636.3,1384.7 1638.8,1382.2 1641.3,1379.6 1643.8,1376.9 1646.3,1374.3 1648.8,1371.7 1651.3,1369 1653.8,1366.5 1656.3,1363.9 1658.8,1361.5 1661.3,1359.1 1663.8,1356.8 1666.3,1354.7 1668.8,1352.6 1671.3,1350.6 1673.8,1348.8 1676.3,1347.1 1678.8,1345.6 1681.3,1344.2 1683.8,1342.9 1686.3,1341.9 1688.8,1341.1 1691.3,1340.4 1693.8,1340 1696.3,1339.7 1698.8,1339.6 1701.3,1339.5 1703.8,1339.4 1706.3,1339.3 1708.8,1339.1 1711.3,1338.7 1712.3,1338.5" fill="none" stroke="#000" stroke-width="3.2" stroke-linejoin="round" stroke-linecap="butt"/>
<rect x="1477.4" y="1210.1" width="223.6" height="161.4" rx="3" ry="3" fill="#FFAC00" fill-opacity="0.985"/>
<text transform="translate(1588.7,1234.3) scale(1.085,1)" font-family="'DejaVu Sans','Liberation Sans',sans-serif" font-size="20.6" text-anchor="middle" fill="#1a1200" xml:space="preserve">Ref.  &amp;  Det.</text>
<circle cx="1504" cy="1260.4" r="10.1" fill="none" stroke="#FF0000" stroke-width="4.2"/>
<text transform="translate(1541.9,1265.6) scale(0.945,1)" font-family="'DejaVu Sans','Liberation Sans',sans-serif" font-size="20.0" font-weight="bold" fill="#000">sp</text>
<path d="M1630,1252.2 1628,1258.2 1621.7,1258.2 1626.8,1261.9 1624.9,1267.9 1630,1264.2 1635.1,1267.9 1633.2,1261.9 1638.3,1258.2 1632,1258.2Z" fill="#FF0000" stroke="#FF0000" stroke-width="3.7" stroke-linejoin="round"/>
<text transform="translate(1666.9,1265.6) scale(0.945,1)" font-family="'DejaVu Sans','Liberation Sans',sans-serif" font-size="20.0" font-weight="bold" fill="#000">sp</text>
<rect x="1493.9" y="1281" width="20.2" height="20.2" fill="none" stroke="#0433FF" stroke-width="4.2" stroke-linejoin="round"/>
<text transform="translate(1541.9,1296.3) scale(0.945,1)" font-family="'DejaVu Sans','Liberation Sans',sans-serif" font-size="20.0" font-weight="bold" fill="#000">on</text>
<path d="M1626.1,1283.8 1630,1287.7 1633.9,1283.8 1637.8,1287.7 1633.9,1291.6 1637.8,1295.5 1633.9,1299.5 1630,1295.5 1626.1,1299.5 1622.2,1295.5 1626.1,1291.6 1622.2,1287.7Z" fill="#0433FF" stroke="#0433FF" stroke-width="4.0" stroke-linejoin="round"/>
<text transform="translate(1666.9,1296.3) scale(0.945,1)" font-family="'DejaVu Sans','Liberation Sans',sans-serif" font-size="20.0" font-weight="bold" fill="#000">on</text>
<rect x="1493.9" y="1311.7" width="20.2" height="20.2" fill="none" stroke="#0F9421" stroke-width="4.2" stroke-linejoin="round"/>
<text transform="translate(1541.9,1327) scale(0.945,1)" font-family="'DejaVu Sans','Liberation Sans',sans-serif" font-size="20.0" font-weight="bold" fill="#000">dn</text>
<path d="M1626.1,1314.5 1630,1318.4 1633.9,1314.5 1637.8,1318.4 1633.9,1322.3 1637.8,1326.2 1633.9,1330.2 1630,1326.2 1626.1,1330.2 1622.2,1326.2 1626.1,1322.3 1622.2,1318.4Z" fill="#0F9421" stroke="#0F9421" stroke-width="4.0" stroke-linejoin="round"/>
<text transform="translate(1666.9,1327) scale(0.945,1)" font-family="'DejaVu Sans','Liberation Sans',sans-serif" font-size="20.0" font-weight="bold" fill="#000">dn</text>
<circle cx="1504" cy="1352.5" r="10.1" fill="none" stroke="#C42CD4" stroke-width="4.2"/>
<text transform="translate(1541.9,1357.7) scale(0.945,1)" font-family="'DejaVu Sans','Liberation Sans',sans-serif" font-size="20.0" font-weight="bold" fill="#000">dp</text>
<path d="M1630,1344.3 1628,1350.3 1621.7,1350.3 1626.8,1354 1624.9,1360 1630,1356.3 1635.1,1360 1633.2,1354 1638.3,1350.3 1632,1350.3Z" fill="#C42CD4" stroke="#C42CD4" stroke-width="3.7" stroke-linejoin="round"/>
<text transform="translate(1666.9,1357.7) scale(0.945,1)" font-family="'DejaVu Sans','Liberation Sans',sans-serif" font-size="20.0" font-weight="bold" fill="#000">dp</text>
</g>
<rect x="223.8" y="1199.5" width="1488.5" height="234.2" fill="none" stroke="#000" stroke-width="1.7"/>
<text transform="translate(197.4,1321.6) rotate(-90)" font-family="'DejaVu Sans','Liberation Sans',sans-serif" font-size="44" text-anchor="middle" fill="#000">PPG</text>
<rect x="3.9" y="1201.6" width="132.4" height="114.3" fill="#FFFA4D" stroke="#55511a" stroke-width="1.6"/>
<text x="14.6" y="1227.3" font-family="'DejaVu Sans','Liberation Sans',sans-serif" font-size="19.8" fill="#14140a">Dist. errors</text>
<text x="27" y="1251.2" font-family="'DejaVu Sans','Liberation Sans',sans-serif" font-size="19.8" fill="#14140a">on: -19</text>
<text x="27" y="1275.1" font-family="'DejaVu Sans','Liberation Sans',sans-serif" font-size="19.8" fill="#14140a">sp: 7</text>
<text x="27" y="1299" font-family="'DejaVu Sans','Liberation Sans',sans-serif" font-size="19.8" fill="#14140a">dn: 9</text>
<text x="224.1" y="1464.5" font-family="'DejaVu Sans','Liberation Sans',sans-serif" font-size="20" text-anchor="middle" fill="#000">0</text>
<clipPath id="c_p2_d1"><rect x="223.8" y="1433.7" width="1488.5" height="234"/></clipPath>
<rect x="223.8" y="1433.7" width="1488.5" height="234" fill="#fff"/>
<g clip-path="url(#c_p2_d1)">
<line x1="968" y1="1433.7" x2="968" y2="1667.7" stroke="#9c9c9c" stroke-width="0.9"/>
<circle cx="398.8" cy="1447.3" r="10.1" fill="none" stroke="#FF0000" stroke-width="4.2"/>
<rect x="577.4" y="1646.7" width="20.2" height="20.2" fill="none" stroke="#0433FF" stroke-width="4.2" stroke-linejoin="round"/>
<path d="M399.5,1438.5 397.6,1444.5 391.3,1444.5 396.4,1448.2 394.4,1454.2 399.5,1450.5 404.7,1454.2 402.7,1448.2 407.8,1444.5 401.5,1444.5Z" fill="#FF0000" stroke="#FF0000" stroke-width="3.7" stroke-linejoin="round"/>
<path d="M585.1,1649 589,1652.9 592.9,1649 596.8,1652.9 592.9,1656.9 596.8,1660.8 592.9,1664.7 589,1660.8 585.1,1664.7 581.1,1660.8 585.1,1656.9 581.1,1652.9Z" fill="#0433FF" stroke="#0433FF" stroke-width="4.0" stroke-linejoin="round"/>
<path d="M682.1,1608.8 680.1,1614.8 673.8,1614.8 678.9,1618.5 677,1624.5 682.1,1620.8 687.2,1624.5 685.3,1618.5 690.4,1614.8 684.1,1614.8Z" fill="#0F9421" stroke="#0F9421" stroke-width="3.7" stroke-linejoin="round"/>
<path d="M223.8,1595.6 226.3,1594.9 228.8,1594.3 231.3,1593.7 233.8,1593.1 236.3,1592.5 238.8,1592 241.3,1591.4 243.8,1590.9 246.3,1590.5 248.8,1590 251.3,1589.5 253.8,1589.1 256.3,1588.7 258.8,1588.3 261.3,1588 263.8,1587.6 266.3,1587.3 268.8,1586.9 271.3,1586.6 273.8,1586.3 276.3,1586 278.8,1585.7 281.3,1585.5 283.8,1585.2 286.3,1585 288.8,1584.7 291.3,1584.5 293.8,1584.3 296.3,1584.1 298.8,1583.9 301.3,1583.7 303.8,1583.5 306.3,1583.2 308.8,1582.9 311.3,1582.5 313.8,1582 316.3,1581.4 318.8,1580.6 321.3,1579.5 323.8,1578.2 326.3,1576.7 328.8,1574.8 331.3,1572.6 333.8,1570 336.3,1567.1 338.8,1563.7 341.3,1559.8 343.8,1555.5 346.3,1550.9 348.8,1545.8 351.3,1540.5 353.8,1534.8 356.3,1529 358.8,1523 361.3,1516.9 363.8,1510.7 366.3,1504.5 368.8,1498.3 371.3,1492.1 373.8,1486.1 376.3,1480.2 378.8,1474.6 381.3,1469.2 383.8,1464.2 386.3,1459.7 388.8,1455.7 391.3,1452.4 393.8,1449.9 396.3,1448.1 398.8,1447.3 401.3,1447.4 403.8,1448.5 406.3,1450.5 408.8,1453.2 411.3,1456.6 413.8,1460.5 416.3,1464.8 418.8,1469.5 421.3,1474.4 423.8,1479.5 426.3,1484.6 428.8,1489.8 431.3,1495.1 433.8,1500.2 436.3,1505.2 438.8,1510 441.3,1514.6 443.8,1518.8 446.3,1522.8 448.8,1526.5 451.3,1529.9 453.8,1533.2 456.3,1536.2 458.8,1539 461.3,1541.7 463.8,1544.3 466.3,1546.7 468.8,1549.1 471.3,1551.4 473.8,1553.6 476.3,1555.8 478.8,1558 481.3,1560.2 483.8,1562.4 486.3,1564.7 488.8,1567 491.3,1569.3 493.8,1571.7 496.3,1574.1 498.8,1576.5 501.3,1579 503.8,1581.4 506.3,1584 508.8,1586.5 511.3,1589.1 513.8,1591.7 516.3,1594.4 518.8,1597.1 521.3,1599.8 523.8,1602.6 526.3,1605.4 528.8,1608.2 531.3,1611.1 533.8,1614 536.3,1616.8 538.8,1619.7 541.3,1622.5 543.8,1625.3 546.3,1628 548.8,1630.7 551.3,1633.3 553.8,1635.8 556.3,1638.3 558.8,1640.6 561.3,1642.8 563.8,1644.8 566.3,1646.8 568.8,1648.5 571.3,1650.1 573.8,1651.6 576.3,1652.8 578.8,1653.9 581.3,1654.7 583.8,1655.3 586.3,1655.7 588.8,1655.8 591.3,1655.7 593.8,1655.4 596.3,1654.8 598.8,1654.1 601.3,1653.2 603.8,1652.1 606.3,1650.9 608.8,1649.6 611.3,1648.1 613.8,1646.6 616.3,1645.1 618.8,1643.5 621.3,1641.8 623.8,1640.2 626.3,1638.5 628.8,1636.9 631.3,1635.2 633.8,1633.6 636.3,1632.1 638.8,1630.6 641.3,1629.2 643.8,1627.9 646.3,1626.7 648.8,1625.5 651.3,1624.5 653.8,1623.5 656.3,1622.6 658.8,1621.7 661.3,1620.8 663.8,1619.9 666.3,1619.1 668.8,1618.3 671.3,1617.5 673.8,1616.8 676.3,1616.1 678.8,1615.4 681.3,1614.7 683.8,1614 686.3,1613.4 688.8,1612.8 691.3,1612.2 693.8,1611.6 696.3,1611 698.8,1610.5 701.3,1610 703.8,1609.5 706.3,1609 708.8,1608.5 711.3,1608 713.8,1607.5 716.3,1607 718.8,1606.5 721.3,1606 723.8,1605.4 726.3,1604.9 728.8,1604.3 731.3,1603.7 733.8,1603 736.3,1602.4 738.8,1601.8 741.3,1601.1 743.8,1600.4 746.3,1599.8 748.8,1599.1 751.3,1598.4 753.8,1597.7 756.3,1597.1 758.8,1596.4 761.3,1595.8 763.8,1595.1 766.3,1594.5 768.8,1593.9 771.3,1593.3 773.8,1592.8 776.3,1592.2 778.8,1591.7 781.3,1591.2 783.8,1590.8 786.3,1590.4 788.8,1590 791.3,1589.7 793.8,1589.4 796.3,1589.1 798.8,1588.9 801.3,1588.7 803.8,1588.6 806.3,1588.4 808.8,1588.3 811.3,1588.2 813.8,1588.1 816.3,1588 818.8,1588 821.3,1587.9 823.8,1587.9 826.3,1587.8 828.8,1587.8 831.3,1587.7 833.8,1587.7 836.3,1587.6 838.8,1587.5 841.3,1587.5 843.8,1587.4 846.3,1587.2 848.8,1587.1 851.3,1586.9 853.8,1586.7 856.3,1586.5 858.8,1586.2 861.3,1586 863.8,1585.6 866.3,1585.3 868.8,1584.9 871.3,1584.5 873.8,1584 876.3,1583.6 878.8,1583.2 881.3,1582.7 883.8,1582.3 886.3,1581.9 888.8,1581.5 891.3,1581.1 893.8,1580.7 896.3,1580.4 898.8,1580.1 901.3,1579.8 903.8,1579.6 906.3,1579.5 908.8,1579.4 911.3,1579.3 913.8,1579.4 916.3,1579.5 918.8,1579.7 921.3,1579.9 923.8,1580.3 926.3,1580.7 928.8,1581.1 931.3,1581.6 933.8,1582.1 936.3,1582.6 938.8,1583.1 941.3,1583.5 943.8,1583.9 946.3,1584.2 948.8,1584.4 951.3,1584.5 953.8,1584.5 956.3,1584.2 958.8,1583.6 961.3,1582.5 963.8,1580.8 966.3,1578.7 968.8,1575.9 971.3,1572.7 973.8,1568.8 976.3,1564.4 978.8,1559.3 981.3,1553.6 983.8,1547.4 986.3,1540.7 988.8,1533.6 991.3,1526.1 993.8,1518.4 996.3,1510.6 998.8,1502.7 1001.3,1495.1 1003.8,1487.7 1006.3,1480.6 1008.8,1474.1 1011.3,1468.1 1013.8,1462.8 1016.3,1458.1 1018.8,1454 1021.3,1450.6 1023.8,1447.8 1026.3,1445.7 1028.8,1444.3 1031.3,1443.6 1033.8,1443.6 1036.3,1444.2 1038.8,1445.4 1041.3,1447.2 1043.8,1449.5 1046.3,1452.3 1048.8,1455.6 1051.3,1459.3 1053.8,1463.4 1056.3,1467.9 1058.8,1472.7 1061.3,1477.6 1063.8,1482.6 1066.3,1487.6 1068.8,1492.6 1071.3,1497.4 1073.8,1502.1 1076.3,1506.4 1078.8,1510.4 1081.3,1514.1 1083.8,1517.6 1086.3,1520.8 1088.8,1523.9 1091.3,1526.8 1093.8,1529.5 1096.3,1532 1098.8,1534.4 1101.3,1536.8 1103.8,1539 1106.3,1541.1 1108.8,1543.1 1111.3,1545.2 1113.8,1547.1 1116.3,1549.1 1118.8,1551 1121.3,1553 1123.8,1555 1126.3,1557 1128.8,1559.1 1131.3,1561.2 1133.8,1563.5 1136.3,1565.7 1138.8,1568.1 1141.3,1570.4 1143.8,1572.8 1146.3,1575.3 1148.8,1577.8 1151.3,1580.2 1153.8,1582.7 1156.3,1585.2 1158.8,1587.7 1161.3,1590.1 1163.8,1592.6 1166.3,1595 1168.8,1597.4 1171.3,1599.7 1173.8,1602 1176.3,1604.2 1178.8,1606.4 1181.3,1608.5 1183.8,1610.5 1186.3,1612.5 1188.8,1614.3 1191.3,1616.1 1193.8,1617.7 1196.3,1619.2 1198.8,1620.6 1201.3,1621.8 1203.8,1622.9 1206.3,1623.8 1208.8,1624.5 1211.3,1625.1 1213.8,1625.4 1216.3,1625.6 1218.8,1625.5 1221.3,1625.2 1223.8,1624.6 1226.3,1623.9 1228.8,1622.9 1231.3,1621.8 1233.8,1620.5 1236.3,1619.1 1238.8,1617.5 1241.3,1615.9 1243.8,1614.3 1246.3,1612.5 1248.8,1610.8 1251.3,1609.1 1253.8,1607.5 1256.3,1605.8 1258.8,1604.3 1261.3,1602.9 1263.8,1601.5 1266.3,1600.4 1268.8,1599.4 1271.3,1598.5 1273.8,1597.8 1276.3,1597.2 1278.8,1596.7 1281.3,1596.3 1283.8,1596.1 1286.3,1596 1288.8,1595.9 1291.3,1596 1293.8,1596.1 1296.3,1596.4 1298.8,1596.7 1301.3,1597 1303.8,1597.5 1306.3,1597.9 1308.8,1598.3 1311.3,1598.6 1313.8,1598.9 1316.3,1599.2 1318.8,1599.2 1321.3,1599.2 1323.8,1599 1326.3,1598.6 1328.8,1598.1 1331.3,1597.6 1333.8,1597 1336.3,1596.3 1338.8,1595.5 1341.3,1594.8 1343.8,1594 1346.3,1593.2 1348.8,1592.5 1351.3,1591.8 1353.8,1591.2 1356.3,1590.7 1358.8,1590.2 1361.3,1589.9 1363.8,1589.6 1366.3,1589.5 1368.8,1589.4 1371.3,1589.4 1373.8,1589.4 1376.3,1589.6 1378.8,1589.8 1381.3,1590 1383.8,1590.3 1386.3,1590.7 1388.8,1591 1391.3,1591.5 1393.8,1591.9 1396.3,1592.4 1398.8,1592.9 1401.3,1593.3 1403.8,1593.8 1406.3,1594.3 1408.8,1594.8 1411.3,1595.2 1413.8,1595.6 1416.3,1596 1418.8,1596.3 1421.3,1596.6 1423.8,1596.8 1426.3,1596.9 1428.8,1596.9 1431.3,1596.9 1433.8,1596.7 1436.3,1596.5 1438.8,1596.1 1441.3,1595.7 1443.8,1595.3 1446.3,1594.9 1448.8,1594.6 1451.3,1594.3 1453.8,1594 1456.3,1593.9 1458.8,1593.8 1461.3,1593.8 1463.8,1593.9 1466.3,1594 1468.8,1594.2 1471.3,1594.5 1473.8,1594.8 1476.3,1595.1 1478.8,1595.5 1481.3,1595.8 1483.8,1596.3 1486.3,1596.7 1488.8,1597.1 1491.3,1597.5 1493.8,1597.9 1496.3,1598.4 1498.8,1598.8 1501.3,1599.1 1503.8,1599.5 1506.3,1599.8 1508.8,1600.1 1511.3,1600.3 1513.8,1600.5 1516.3,1600.6 1518.8,1600.8 1521.3,1600.9 1523.8,1601 1526.3,1601.1 1528.8,1601.1 1531.3,1601.2 1533.8,1601.2 1536.3,1601.3 1538.8,1601.4 1541.3,1601.4 1543.8,1601.5 1546.3,1601.6 1548.8,1601.8 1551.3,1601.9 1553.8,1602.1 1556.3,1602.3 1558.8,1602.5 1561.3,1602.6 1563.8,1602.7 1566.3,1602.7 1568.8,1602.6 1571.3,1602.3 1573.8,1601.9 1576.3,1601.2 1578.8,1600.3 1581.3,1599.2 1583.8,1597.8 1586.3,1596 1588.8,1594 1591.3,1591.6 1593.8,1588.8 1596.3,1585.7 1598.8,1582.1 1601.3,1578.3 1603.8,1574.2 1606.3,1569.7 1608.8,1565.1 1611.3,1560.4 1613.8,1555.5 1616.3,1550.6 1618.8,1545.7 1621.3,1540.9 1623.8,1536.2 1626.3,1531.6 1628.8,1527.3 1631.3,1523.3 1633.8,1519.7 1636.3,1516.4 1638.8,1513.6 1641.3,1511.2 1643.8,1509.5 1646.3,1508.3 1648.8,1507.7 1651.3,1507.7 1653.8,1508.3 1656.3,1509.5 1658.8,1511.3 1661.3,1513.7 1663.8,1516.7 1666.3,1520.1 1668.8,1523.9 1671.3,1527.9 1673.8,1532.1 1676.3,1536.3 1678.8,1540.5 1681.3,1544.6 1683.8,1548.5 1686.3,1552.3 1688.8,1555.9 1691.3,1559.3 1693.8,1562.3 1696.3,1565.1 1698.8,1567.4 1701.3,1569.4 1703.8,1570.9 1706.3,1571.9 1708.8,1572.7 1711.3,1573.1 1712.3,1573.2" fill="none" stroke="#000" stroke-width="3.2" stroke-linejoin="round" stroke-linecap="butt"/>
<rect x="1497.9" y="1444.3" width="203.1" height="130.7" rx="3" ry="3" fill="#FFAC00" fill-opacity="0.985"/>
<text transform="translate(1599,1468.5) scale(1.085,1)" font-family="'DejaVu Sans','Liberation Sans',sans-serif" font-size="20.6" text-anchor="middle" fill="#1a1200" xml:space="preserve">Ref.  &amp;  Det.</text>
<circle cx="1524.7" cy="1494.6" r="10.1" fill="none" stroke="#FF0000" stroke-width="4.2"/>
<text transform="translate(1561.1,1499.8) scale(0.945,1)" font-family="'DejaVu Sans','Liberation Sans',sans-serif" font-size="20.0" font-weight="bold" fill="#000">u</text>
<path d="M1639.2,1486.4 1637.2,1492.4 1630.9,1492.4 1636,1496.1 1634.1,1502.1 1639.2,1498.4 1644.3,1502.1 1642.4,1496.1 1647.5,1492.4 1641.2,1492.4Z" fill="#FF0000" stroke="#FF0000" stroke-width="3.7" stroke-linejoin="round"/>
<text transform="translate(1674.3,1499.8) scale(0.945,1)" font-family="'DejaVu Sans','Liberation Sans',sans-serif" font-size="20.0" font-weight="bold" fill="#000">u</text>
<rect x="1514.6" y="1515.2" width="20.2" height="20.2" fill="none" stroke="#0433FF" stroke-width="4.2" stroke-linejoin="round"/>
<text transform="translate(1561.1,1530.5) scale(0.945,1)" font-family="'DejaVu Sans','Liberation Sans',sans-serif" font-size="20.0" font-weight="bold" fill="#000">v</text>
<path d="M1635.3,1518 1639.2,1521.9 1643.1,1518 1647,1521.9 1643.1,1525.8 1647,1529.7 1643.1,1533.7 1639.2,1529.7 1635.3,1533.7 1631.4,1529.7 1635.3,1525.8 1631.4,1521.9Z" fill="#0433FF" stroke="#0433FF" stroke-width="4.0" stroke-linejoin="round"/>
<text transform="translate(1674.3,1530.5) scale(0.945,1)" font-family="'DejaVu Sans','Liberation Sans',sans-serif" font-size="20.0" font-weight="bold" fill="#000">v</text>
<circle cx="1524.7" cy="1556" r="10.1" fill="none" stroke="#0F9421" stroke-width="4.2"/>
<text transform="translate(1561.1,1561.2) scale(0.945,1)" font-family="'DejaVu Sans','Liberation Sans',sans-serif" font-size="20.0" font-weight="bold" fill="#000">w</text>
<path d="M1639.2,1547.8 1637.2,1553.8 1630.9,1553.8 1636,1557.5 1634.1,1563.5 1639.2,1559.8 1644.3,1563.5 1642.4,1557.5 1647.5,1553.8 1641.2,1553.8Z" fill="#0F9421" stroke="#0F9421" stroke-width="3.7" stroke-linejoin="round"/>
<text transform="translate(1674.3,1561.2) scale(0.945,1)" font-family="'DejaVu Sans','Liberation Sans',sans-serif" font-size="20.0" font-weight="bold" fill="#000">w</text>
</g>
<rect x="223.8" y="1433.7" width="1488.5" height="234" fill="none" stroke="#000" stroke-width="1.7"/>
<text transform="translate(197.4,1555.7) rotate(-90)" font-family="'DejaVu Sans','Liberation Sans',sans-serif" font-size="44" text-anchor="middle" fill="#000">PPG'</text>
<rect x="3.9" y="1434.2" width="132.4" height="114.3" fill="#FFFA4D" stroke="#55511a" stroke-width="1.6"/>
<text x="14.6" y="1459.9" font-family="'DejaVu Sans','Liberation Sans',sans-serif" font-size="19.8" fill="#14140a">Dist. errors</text>
<text x="27" y="1483.8" font-family="'DejaVu Sans','Liberation Sans',sans-serif" font-size="19.8" fill="#14140a">u: -1</text>
<text x="27" y="1507.7" font-family="'DejaVu Sans','Liberation Sans',sans-serif" font-size="19.8" fill="#14140a">v: -2</text>
<text x="27" y="1531.6" font-family="'DejaVu Sans','Liberation Sans',sans-serif" font-size="19.8" fill="#14140a">w: NaN</text>
<text x="224.1" y="1698.5" font-family="'DejaVu Sans','Liberation Sans',sans-serif" font-size="20" text-anchor="middle" fill="#000">0</text>
<clipPath id="c_p2_d2"><rect x="223.8" y="1667.7" width="1488.5" height="233.5"/></clipPath>
<rect x="223.8" y="1667.7" width="1488.5" height="233.5" fill="#fff"/>
<g clip-path="url(#c_p2_d2)">
<line x1="968" y1="1667.7" x2="968" y2="1901.2" stroke="#9c9c9c" stroke-width="0.9"/>
<circle cx="365.2" cy="1687.4" r="10.1" fill="none" stroke="#FF0000" stroke-width="4.2"/>
<rect x="420.4" y="1880.9" width="20.2" height="20.2" fill="none" stroke="#0433FF" stroke-width="4.2" stroke-linejoin="round"/>
<circle cx="478" cy="1840.5" r="10.1" fill="none" stroke="#0F9421" stroke-width="4.2"/>
<rect x="525.9" y="1840.9" width="20.2" height="20.2" fill="none" stroke="#C42CD4" stroke-width="4.2" stroke-linejoin="round"/>
<circle cx="622.6" cy="1775" r="10.1" fill="none" stroke="#1CC8CF" stroke-width="4.2"/>
<rect x="727.1" y="1787.7" width="20.2" height="20.2" fill="none" stroke="#000000" stroke-width="4.2" stroke-linejoin="round"/>
<path d="M365.2,1678.7 363.2,1684.7 356.9,1684.7 362,1688.5 360.1,1694.5 365.2,1690.8 370.3,1694.5 368.4,1688.5 373.5,1684.7 367.2,1684.7Z" fill="#FF0000" stroke="#FF0000" stroke-width="3.7" stroke-linejoin="round"/>
<path d="M425.1,1883.7 429,1887.6 432.9,1883.7 436.9,1887.6 432.9,1891.5 436.9,1895.5 432.9,1899.4 429,1895.5 425.1,1899.4 421.2,1895.5 425.1,1891.5 421.2,1887.6Z" fill="#0433FF" stroke="#0433FF" stroke-width="4.0" stroke-linejoin="round"/>
<path d="M479.5,1831.9 477.5,1837.9 471.2,1837.9 476.3,1841.6 474.4,1847.6 479.5,1843.9 484.6,1847.6 482.6,1841.6 487.8,1837.9 481.4,1837.9Z" fill="#0F9421" stroke="#0F9421" stroke-width="3.7" stroke-linejoin="round"/>
<path d="M530.6,1843.1 534.5,1847.1 538.4,1843.1 542.4,1847.1 538.4,1851 542.4,1854.9 538.4,1858.8 534.5,1854.9 530.6,1858.8 526.7,1854.9 530.6,1851 526.7,1847.1Z" fill="#C42CD4" stroke="#C42CD4" stroke-width="4.0" stroke-linejoin="round"/>
<path d="M624.1,1766.3 622.1,1772.3 615.8,1772.3 620.9,1776.1 619,1782.1 624.1,1778.3 629.2,1782.1 627.2,1776.1 632.4,1772.3 626,1772.3Z" fill="#1CC8CF" stroke="#1CC8CF" stroke-width="3.7" stroke-linejoin="round"/>
<path d="M678.2,1784.3 682.1,1788.2 686.1,1784.3 690,1788.2 686.1,1792.1 690,1796.1 686.1,1800 682.1,1796.1 678.2,1800 674.3,1796.1 678.2,1792.1 674.3,1788.2Z" fill="#000000" stroke="#000000" stroke-width="4.0" stroke-linejoin="round"/>
<path d="M223.8,1799.4 226.3,1797.3 228.8,1795.5 231.3,1794.2 233.8,1793.1 236.3,1792.3 238.8,1791.8 241.3,1791.6 243.8,1791.5 246.3,1791.6 248.8,1791.9 251.3,1792.4 253.8,1792.9 256.3,1793.6 258.8,1794.2 261.3,1795 263.8,1795.7 266.3,1796.4 268.8,1797.1 271.3,1797.6 273.8,1798.1 276.3,1798.5 278.8,1798.8 281.3,1799 283.8,1799.1 286.3,1799.1 288.8,1799 291.3,1798.8 293.8,1798.5 296.3,1798.2 298.8,1797.7 301.3,1797.2 303.8,1796.5 306.3,1795.7 308.8,1794.7 311.3,1793.5 313.8,1791.9 316.3,1790 318.8,1787.6 321.3,1784.7 323.8,1781.3 326.3,1777.3 328.8,1772.7 331.3,1767.6 333.8,1762 336.3,1755.9 338.8,1749.3 341.3,1742.3 343.8,1734.9 346.3,1727.3 348.8,1719.8 351.3,1712.6 353.8,1705.9 356.3,1699.9 358.8,1694.8 361.3,1690.8 363.8,1688.2 366.3,1687.2 368.8,1687.9 371.3,1690.6 373.8,1695.4 376.3,1702.4 378.8,1711.3 381.3,1721.7 383.8,1733.2 386.3,1745.7 388.8,1758.8 391.3,1772.2 393.8,1785.6 396.3,1798.9 398.8,1811.9 401.3,1824.2 403.8,1835.7 406.3,1846.3 408.8,1855.8 411.3,1864.3 413.8,1871.6 416.3,1877.8 418.8,1882.8 421.3,1886.6 423.8,1889.1 426.3,1890.4 428.8,1890.6 431.3,1889.5 433.8,1887.4 436.3,1884.3 438.8,1880.6 441.3,1876.4 443.8,1872 446.3,1867.7 448.8,1863.5 451.3,1859.7 453.8,1856.2 456.3,1853 458.8,1850.2 461.3,1847.7 463.8,1845.6 466.3,1843.8 468.8,1842.5 471.3,1841.5 473.8,1840.9 476.3,1840.6 478.8,1840.5 481.3,1840.7 483.8,1841 486.3,1841.5 488.8,1842.1 491.3,1842.8 493.8,1843.5 496.3,1844.2 498.8,1844.8 501.3,1845.4 503.8,1846 506.3,1846.6 508.8,1847.1 511.3,1847.6 513.8,1848 516.3,1848.4 518.8,1848.8 521.3,1849.1 523.8,1849.4 526.3,1849.6 528.8,1849.8 531.3,1849.9 533.8,1850 536.3,1850 538.8,1849.8 541.3,1849.5 543.8,1849 546.3,1848.3 548.8,1847.4 551.3,1846.2 553.8,1844.6 556.3,1842.8 558.8,1840.5 561.3,1838 563.8,1835.1 566.3,1831.9 568.8,1828.6 571.3,1825.1 573.8,1821.4 576.3,1817.7 578.8,1813.9 581.3,1810.1 583.8,1806.4 586.3,1802.8 588.8,1799.3 591.3,1795.9 593.8,1792.7 596.3,1789.7 598.8,1786.9 601.3,1784.4 603.8,1782.2 606.3,1780.3 608.8,1778.7 611.3,1777.4 613.8,1776.5 616.3,1775.7 618.8,1775.3 621.3,1775 623.8,1775 626.3,1775.2 628.8,1775.5 631.3,1776 633.8,1776.6 636.3,1777.3 638.8,1778.1 641.3,1779 643.8,1779.9 646.3,1780.9 648.8,1781.9 651.3,1782.9 653.8,1783.8 656.3,1784.7 658.8,1785.6 661.3,1786.5 663.8,1787.2 666.3,1788 668.8,1788.7 671.3,1789.3 673.8,1789.8 676.3,1790.3 678.8,1790.7 681.3,1791 683.8,1791.3 686.3,1791.5 688.8,1791.6 691.3,1791.7 693.8,1791.7 696.3,1791.7 698.8,1791.8 701.3,1791.8 703.8,1791.9 706.3,1792 708.8,1792.1 711.3,1792.3 713.8,1792.6 716.3,1793 718.8,1793.5 721.3,1794 723.8,1794.6 726.3,1795.2 728.8,1795.7 731.3,1796.2 733.8,1796.5 736.3,1796.8 738.8,1796.9 741.3,1796.8 743.8,1796.5 746.3,1796 748.8,1795.4 751.3,1794.6 753.8,1793.8 756.3,1793 758.8,1792.2 761.3,1791.5 763.8,1790.9 766.3,1790.4 768.8,1790.1 771.3,1790 773.8,1790.2 776.3,1790.6 778.8,1791.2 781.3,1792 783.8,1792.9 786.3,1793.8 788.8,1794.9 791.3,1795.9 793.8,1797 796.3,1798 798.8,1798.9 801.3,1799.7 803.8,1800.4 806.3,1800.9 808.8,1801.2 811.3,1801.5 813.8,1801.7 816.3,1801.7 818.8,1801.7 821.3,1801.7 823.8,1801.5 826.3,1801.3 828.8,1801.1 831.3,1800.9 833.8,1800.7 836.3,1800.4 838.8,1800.2 841.3,1800 843.8,1799.7 846.3,1799.5 848.8,1799.3 851.3,1799 853.8,1798.8 856.3,1798.5 858.8,1798.3 861.3,1798 863.8,1797.8 866.3,1797.5 868.8,1797.2 871.3,1797 873.8,1796.7 876.3,1796.3 878.8,1796 881.3,1795.7 883.8,1795.5 886.3,1795.2 888.8,1795.1 891.3,1795 893.8,1795.1 896.3,1795.3 898.8,1795.6 901.3,1796.1 903.8,1796.8 906.3,1797.7 908.8,1798.8 911.3,1800.2 913.8,1801.7 916.3,1803.4 918.8,1805 921.3,1806.7 923.8,1808.3 926.3,1809.7 928.8,1811 931.3,1811.9 933.8,1812.5 936.3,1812.8 938.8,1812.5 941.3,1811.8 943.8,1810.4 946.3,1808.5 948.8,1805.8 951.3,1802.3 953.8,1798 956.3,1792.8 958.8,1786.9 961.3,1780.2 963.8,1772.9 966.3,1765 968.8,1756.7 971.3,1747.9 973.8,1738.8 976.3,1729.6 978.8,1720.5 981.3,1711.7 983.8,1703.5 986.3,1696 988.8,1689.6 991.3,1684.4 993.8,1680.4 996.3,1678 998.8,1677 1001.3,1677.7 1003.8,1680.2 1006.3,1684.6 1008.8,1690.7 1011.3,1698.5 1013.8,1707.6 1016.3,1717.9 1018.8,1729.1 1021.3,1741 1023.8,1753.4 1026.3,1766 1028.8,1778.7 1031.3,1791.3 1033.8,1803.6 1036.3,1815.6 1038.8,1826.9 1041.3,1837.4 1043.8,1847.1 1046.3,1855.7 1048.8,1863.4 1051.3,1869.9 1053.8,1875.2 1056.3,1879.4 1058.8,1882.3 1061.3,1883.9 1063.8,1884.5 1066.3,1884.1 1068.8,1882.8 1071.3,1880.8 1073.8,1878.2 1076.3,1875.1 1078.8,1871.6 1081.3,1867.8 1083.8,1863.9 1086.3,1860 1088.8,1856.2 1091.3,1852.6 1093.8,1849.3 1096.3,1846.4 1098.8,1843.9 1101.3,1841.8 1103.8,1840 1106.3,1838.6 1108.8,1837.6 1111.3,1836.8 1113.8,1836.4 1116.3,1836.2 1118.8,1836.3 1121.3,1836.7 1123.8,1837.1 1126.3,1837.7 1128.8,1838.4 1131.3,1839.2 1133.8,1839.9 1136.3,1840.6 1138.8,1841.2 1141.3,1841.7 1143.8,1842 1146.3,1842.2 1148.8,1842.3 1151.3,1842.2 1153.8,1842 1156.3,1841.6 1158.8,1841.2 1161.3,1840.6 1163.8,1839.9 1166.3,1839.1 1168.8,1838.2 1171.3,1837.3 1173.8,1836.2 1176.3,1835.1 1178.8,1833.9 1181.3,1832.6 1183.8,1831.2 1186.3,1829.8 1188.8,1828.4 1191.3,1826.8 1193.8,1825.3 1196.3,1823.7 1198.8,1822 1201.3,1820.2 1203.8,1818.3 1206.3,1816.2 1208.8,1813.9 1211.3,1811.4 1213.8,1808.5 1216.3,1805.5 1218.8,1802.2 1221.3,1798.8 1223.8,1795.4 1226.3,1792 1228.8,1788.7 1231.3,1785.6 1233.8,1782.8 1236.3,1780.2 1238.8,1778.1 1241.3,1776.3 1243.8,1775 1246.3,1774 1248.8,1773.5 1251.3,1773.4 1253.8,1773.7 1256.3,1774.3 1258.8,1775.4 1261.3,1776.8 1263.8,1778.6 1266.3,1780.6 1268.8,1782.7 1271.3,1785.1 1273.8,1787.5 1276.3,1790 1278.8,1792.4 1281.3,1794.8 1283.8,1797 1286.3,1799.2 1288.8,1801.1 1291.3,1802.9 1293.8,1804.5 1296.3,1805.7 1298.8,1806.7 1301.3,1807.4 1303.8,1807.7 1306.3,1807.6 1308.8,1807.2 1311.3,1806.5 1313.8,1805.6 1316.3,1804.4 1318.8,1803 1321.3,1801.6 1323.8,1800.1 1326.3,1798.6 1328.8,1797.1 1331.3,1795.6 1333.8,1794.3 1336.3,1793.1 1338.8,1792.1 1341.3,1791.3 1343.8,1790.7 1346.3,1790.3 1348.8,1790.2 1351.3,1790.3 1353.8,1790.8 1356.3,1791.6 1358.8,1792.7 1361.3,1793.9 1363.8,1795.3 1366.3,1796.9 1368.8,1798.5 1371.3,1800.2 1373.8,1801.9 1376.3,1803.5 1378.8,1805.1 1381.3,1806.6 1383.8,1808 1386.3,1809.2 1388.8,1810.2 1391.3,1811.1 1393.8,1811.8 1396.3,1812.2 1398.8,1812.3 1401.3,1812.1 1403.8,1811.7 1406.3,1811 1408.8,1810.2 1411.3,1809.1 1413.8,1808 1416.3,1806.8 1418.8,1805.5 1421.3,1804.2 1423.8,1802.9 1426.3,1801.7 1428.8,1800.6 1431.3,1799.6 1433.8,1798.7 1436.3,1798 1438.8,1797.4 1441.3,1797 1443.8,1796.7 1446.3,1796.6 1448.8,1796.7 1451.3,1796.9 1453.8,1797.4 1456.3,1798 1458.8,1798.9 1461.3,1799.9 1463.8,1801 1466.3,1802.1 1468.8,1803.4 1471.3,1804.6 1473.8,1805.8 1476.3,1807 1478.8,1808.1 1481.3,1809 1483.8,1809.8 1486.3,1810.4 1488.8,1810.8 1491.3,1810.9 1493.8,1810.9 1496.3,1810.7 1498.8,1810.4 1501.3,1809.9 1503.8,1809.2 1506.3,1808.5 1508.8,1807.6 1511.3,1806.6 1513.8,1805.5 1516.3,1804.5 1518.8,1803.3 1521.3,1802.2 1523.8,1801.1 1526.3,1800 1528.8,1799 1531.3,1798.1 1533.8,1797.3 1536.3,1796.6 1538.8,1796.1 1541.3,1795.7 1543.8,1795.6 1546.3,1795.6 1548.8,1795.9 1551.3,1796.3 1553.8,1796.9 1556.3,1797.6 1558.8,1798.3 1561.3,1799.1 1563.8,1799.8 1566.3,1800.6 1568.8,1801.2 1571.3,1801.6 1573.8,1801.6 1576.3,1801.3 1578.8,1800.5 1581.3,1799.1 1583.8,1797.1 1586.3,1794.3 1588.8,1790.7 1591.3,1786.4 1593.8,1781.1 1596.3,1775.1 1598.8,1768.5 1601.3,1761.3 1603.8,1753.8 1606.3,1746 1608.8,1738.2 1611.3,1730.5 1613.8,1723.2 1616.3,1716.6 1618.8,1710.7 1621.3,1706 1623.8,1702.5 1626.3,1700.4 1628.8,1700.2 1631.3,1701.9 1633.8,1706 1636.3,1712.7 1638.8,1722.3 1641.3,1734.1 1643.8,1747.6 1646.3,1762.2 1648.8,1777.3 1651.3,1792.4 1653.8,1807.1 1656.3,1821.2 1658.8,1834 1661.3,1845.2 1663.8,1854.5 1666.3,1861.3 1668.8,1865.7 1671.3,1867.9 1673.8,1868.3 1676.3,1867 1678.8,1864.4 1681.3,1860.8 1683.8,1856.5 1686.3,1851.8 1688.8,1847.1 1691.3,1842.7 1693.8,1839.1 1696.3,1836 1698.8,1832.9 1701.3,1828.6 1703.8,1822.4 1706.3,1813.9 1708.8,1805 1711.3,1803.2 1712.3,1806.8" fill="none" stroke="#000" stroke-width="3.2" stroke-linejoin="round" stroke-linecap="butt"/>
<rect x="1506.2" y="1678.3" width="194.8" height="222.8" rx="3" ry="3" fill="#FFAC00" fill-opacity="0.985"/>
<text transform="translate(1603.1,1702.5) scale(1.085,1)" font-family="'DejaVu Sans','Liberation Sans',sans-serif" font-size="20.6" text-anchor="middle" fill="#1a1200" xml:space="preserve">Ref.  &amp;  Det.</text>
<circle cx="1532.7" cy="1728.6" r="10.1" fill="none" stroke="#FF0000" stroke-width="4.2"/>
<text transform="translate(1570.3,1733.8) scale(0.945,1)" font-family="'DejaVu Sans','Liberation Sans',sans-serif" font-size="20.0" font-weight="bold" fill="#000">a</text>
<path d="M1642.8,1720.4 1640.8,1726.4 1634.5,1726.4 1639.6,1730.1 1637.7,1736.1 1642.8,1732.4 1647.9,1736.1 1646,1730.1 1651.1,1726.4 1644.8,1726.4Z" fill="#FF0000" stroke="#FF0000" stroke-width="3.7" stroke-linejoin="round"/>
<text transform="translate(1680,1733.8) scale(0.945,1)" font-family="'DejaVu Sans','Liberation Sans',sans-serif" font-size="20.0" font-weight="bold" fill="#000">a</text>
<rect x="1522.6" y="1749.2" width="20.2" height="20.2" fill="none" stroke="#0433FF" stroke-width="4.2" stroke-linejoin="round"/>
<text transform="translate(1570.3,1764.5) scale(0.945,1)" font-family="'DejaVu Sans','Liberation Sans',sans-serif" font-size="20.0" font-weight="bold" fill="#000">b</text>
<path d="M1638.9,1752 1642.8,1755.9 1646.7,1752 1650.6,1755.9 1646.7,1759.8 1650.6,1763.7 1646.7,1767.7 1642.8,1763.7 1638.9,1767.7 1635,1763.7 1638.9,1759.8 1635,1755.9Z" fill="#0433FF" stroke="#0433FF" stroke-width="4.0" stroke-linejoin="round"/>
<text transform="translate(1680,1764.5) scale(0.945,1)" font-family="'DejaVu Sans','Liberation Sans',sans-serif" font-size="20.0" font-weight="bold" fill="#000">b</text>
<circle cx="1532.7" cy="1790" r="10.1" fill="none" stroke="#0F9421" stroke-width="4.2"/>
<text transform="translate(1570.3,1795.2) scale(0.945,1)" font-family="'DejaVu Sans','Liberation Sans',sans-serif" font-size="20.0" font-weight="bold" fill="#000">c</text>
<path d="M1642.8,1781.8 1640.8,1787.8 1634.5,1787.8 1639.6,1791.5 1637.7,1797.5 1642.8,1793.8 1647.9,1797.5 1646,1791.5 1651.1,1787.8 1644.8,1787.8Z" fill="#0F9421" stroke="#0F9421" stroke-width="3.7" stroke-linejoin="round"/>
<text transform="translate(1680,1795.2) scale(0.945,1)" font-family="'DejaVu Sans','Liberation Sans',sans-serif" font-size="20.0" font-weight="bold" fill="#000">c</text>
<rect x="1522.6" y="1810.6" width="20.2" height="20.2" fill="none" stroke="#C42CD4" stroke-width="4.2" stroke-linejoin="round"/>
<text transform="translate(1570.3,1825.9) scale(0.945,1)" font-family="'DejaVu Sans','Liberation Sans',sans-serif" font-size="20.0" font-weight="bold" fill="#000">d</text>
<path d="M1638.9,1813.4 1642.8,1817.3 1646.7,1813.4 1650.6,1817.3 1646.7,1821.2 1650.6,1825.1 1646.7,1829 1642.8,1825.1 1638.9,1829 1635,1825.1 1638.9,1821.2 1635,1817.3Z" fill="#C42CD4" stroke="#C42CD4" stroke-width="4.0" stroke-linejoin="round"/>
<text transform="translate(1680,1825.9) scale(0.945,1)" font-family="'DejaVu Sans','Liberation Sans',sans-serif" font-size="20.0" font-weight="bold" fill="#000">d</text>
<circle cx="1532.7" cy="1851.4" r="10.1" fill="none" stroke="#1CC8CF" stroke-width="4.2"/>
<text transform="translate(1570.3,1856.6) scale(0.945,1)" font-family="'DejaVu Sans','Liberation Sans',sans-serif" font-size="20.0" font-weight="bold" fill="#000">e</text>
<path d="M1642.8,1843.2 1640.8,1849.2 1634.5,1849.2 1639.6,1852.9 1637.7,1858.9 1642.8,1855.2 1647.9,1858.9 1646,1852.9 1651.1,1849.2 1644.8,1849.2Z" fill="#1CC8CF" stroke="#1CC8CF" stroke-width="3.7" stroke-linejoin="round"/>
<text transform="translate(1680,1856.6) scale(0.945,1)" font-family="'DejaVu Sans','Liberation Sans',sans-serif" font-size="20.0" font-weight="bold" fill="#000">e</text>
<rect x="1522.6" y="1872" width="20.2" height="20.2" fill="none" stroke="#000000" stroke-width="4.2" stroke-linejoin="round"/>
<text transform="translate(1570.3,1887.3) scale(0.945,1)" font-family="'DejaVu Sans','Liberation Sans',sans-serif" font-size="20.0" font-weight="bold" fill="#000">f</text>
<path d="M1638.9,1874.8 1642.8,1878.7 1646.7,1874.8 1650.6,1878.7 1646.7,1882.6 1650.6,1886.5 1646.7,1890.5 1642.8,1886.5 1638.9,1890.5 1635,1886.5 1638.9,1882.6 1635,1878.7Z" fill="#000000" stroke="#000000" stroke-width="4.0" stroke-linejoin="round"/>
<text transform="translate(1680,1887.3) scale(0.945,1)" font-family="'DejaVu Sans','Liberation Sans',sans-serif" font-size="20.0" font-weight="bold" fill="#000">f</text>
</g>
<rect x="223.8" y="1667.7" width="1488.5" height="233.5" fill="none" stroke="#000" stroke-width="1.7"/>
<text transform="translate(197.4,1789.5) rotate(-90)" font-family="'DejaVu Sans','Liberation Sans',sans-serif" font-size="44" text-anchor="middle" fill="#000">PPG''</text>
<rect x="3.9" y="1668.6" width="132.4" height="186" fill="#FFFA4D" stroke="#55511a" stroke-width="1.6"/>
<text x="14.6" y="1694.3" font-family="'DejaVu Sans','Liberation Sans',sans-serif" font-size="19.8" fill="#14140a">Dist. errors</text>
<text x="27" y="1718.2" font-family="'DejaVu Sans','Liberation Sans',sans-serif" font-size="19.8" fill="#14140a">a: 0</text>
<text x="27" y="1742.1" font-family="'DejaVu Sans','Liberation Sans',sans-serif" font-size="19.8" fill="#14140a">b: 2</text>
<text x="27" y="1766" font-family="'DejaVu Sans','Liberation Sans',sans-serif" font-size="19.8" fill="#14140a">c: -2</text>
<text x="27" y="1789.9" font-family="'DejaVu Sans','Liberation Sans',sans-serif" font-size="19.8" fill="#14140a">d: 2</text>
<text x="27" y="1813.8" font-family="'DejaVu Sans','Liberation Sans',sans-serif" font-size="19.8" fill="#14140a">e: -2</text>
<text x="27" y="1837.7" font-family="'DejaVu Sans','Liberation Sans',sans-serif" font-size="19.8" fill="#14140a">f: 78</text>
<text x="224.1" y="1932" font-family="'DejaVu Sans','Liberation Sans',sans-serif" font-size="20" text-anchor="middle" fill="#000">0</text>
<clipPath id="c_p2_d3"><rect x="223.8" y="1901.2" width="1488.5" height="234.3"/></clipPath>
<rect x="223.8" y="1901.2" width="1488.5" height="234.3" fill="#fff"/>
<g clip-path="url(#c_p2_d3)">
<line x1="968" y1="1901.2" x2="968" y2="2135.5" stroke="#9c9c9c" stroke-width="0.9"/>
<circle cx="449.1" cy="1960.2" r="10.1" fill="none" stroke="#FF0000" stroke-width="4.2"/>
<rect x="492.4" y="1995.8" width="20.2" height="20.2" fill="none" stroke="#0433FF" stroke-width="4.2" stroke-linejoin="round"/>
<path d="M446.9,1951.3 444.9,1957.4 438.6,1957.4 443.7,1961.1 441.8,1967.1 446.9,1963.4 452,1967.1 450,1961.1 455.1,1957.4 448.8,1957.4Z" fill="#FF0000" stroke="#FF0000" stroke-width="3.7" stroke-linejoin="round"/>
<path d="M494.9,1998.2 498.8,2002.1 502.7,1998.2 506.6,2002.1 502.7,2006 506.6,2010 502.7,2013.9 498.8,2010 494.9,2013.9 490.9,2010 494.9,2006 490.9,2002.1Z" fill="#0433FF" stroke="#0433FF" stroke-width="4.0" stroke-linejoin="round"/>
<path d="M223.8,1989.6 226.3,1986.8 228.8,1985.6 231.3,1985.7 233.8,1987 236.3,1989 238.8,1991.7 241.3,1994.7 243.8,1997.8 246.3,2000.6 248.8,2003.1 251.3,2004.8 253.8,2005.9 256.3,2006.4 258.8,2006.5 261.3,2006.2 263.8,2005.6 266.3,2004.9 268.8,2004.1 271.3,2003.3 273.8,2002.6 276.3,2001.8 278.8,2001.1 281.3,2000.4 283.8,1999.6 286.3,1998.9 288.8,1998.2 291.3,1997.5 293.8,1996.8 296.3,1996 298.8,1995 301.3,1993.6 303.8,1991.7 306.3,1989.3 308.8,1986.2 311.3,1982.7 313.8,1978.7 316.3,1974.3 318.8,1969.4 321.3,1964.2 323.8,1958.6 326.3,1952.8 328.8,1947 331.3,1941.5 333.8,1936.4 336.3,1932 338.8,1928.7 341.3,1926.6 343.8,1926 346.3,1927.2 348.8,1930.3 351.3,1935.2 353.8,1942.2 356.3,1951.3 358.8,1962.5 361.3,1975.6 363.8,1990.1 366.3,2005.5 368.8,2021.2 371.3,2036.6 373.8,2051.3 376.3,2065 378.8,2077.6 381.3,2089.2 383.8,2099.6 386.3,2108.5 388.8,2115.7 391.3,2121 393.8,2124 396.3,2124.6 398.8,2123 401.3,2119.2 403.8,2113.4 406.3,2105.9 408.8,2096.7 411.3,2086.1 413.8,2074.2 416.3,2061.4 418.8,2048.2 421.3,2034.9 423.8,2022.1 426.3,2010 428.8,1999.2 431.3,1989.7 433.8,1981.4 436.3,1974.5 438.8,1968.8 441.3,1964.6 443.8,1961.7 446.3,1960.2 448.8,1960.1 451.3,1961.4 453.8,1963.8 456.3,1967.1 458.8,1971 461.3,1975.2 463.8,1979.6 466.3,1983.8 468.8,1987.6 471.3,1991.2 473.8,1994.4 476.3,1997.2 478.8,1999.5 481.3,2001.5 483.8,2002.9 486.3,2003.9 488.8,2004.5 491.3,2004.9 493.8,2005 496.3,2005.1 498.8,2005 501.3,2004.9 503.8,2004.8 506.3,2004.7 508.8,2004.5 511.3,2004.3 513.8,2004.1 516.3,2003.9 518.8,2003.5 521.3,2003.1 523.8,2002.5 526.3,2001.7 528.8,2000.8 531.3,1999.6 533.8,1998.3 536.3,1996.8 538.8,1995.1 541.3,1993.3 543.8,1991.3 546.3,1989.1 548.8,1986.8 551.3,1984.4 553.8,1981.9 556.3,1979.4 558.8,1977 561.3,1974.6 563.8,1972.5 566.3,1970.5 568.8,1968.8 571.3,1967.3 573.8,1966.1 576.3,1965.2 578.8,1964.7 581.3,1964.6 583.8,1964.9 586.3,1965.6 588.8,1966.7 591.3,1968.1 593.8,1969.8 596.3,1971.8 598.8,1974 601.3,1976.4 603.8,1978.9 606.3,1981.5 608.8,1984.2 611.3,1987 613.8,1989.7 616.3,1992.3 618.8,1994.9 621.3,1997.4 623.8,1999.7 626.3,2001.9 628.8,2003.8 631.3,2005.6 633.8,2007.2 636.3,2008.4 638.8,2009.4 641.3,2010.1 643.8,2010.5 646.3,2010.6 648.8,2010.4 651.3,2010.1 653.8,2009.5 656.3,2008.9 658.8,2008.1 661.3,2007.2 663.8,2006.2 666.3,2005.3 668.8,2004.3 671.3,2003.4 673.8,2002.6 676.3,2001.9 678.8,2001.3 681.3,2000.9 683.8,2000.5 686.3,2000.2 688.8,2000.1 691.3,2000.1 693.8,2000.2 696.3,2000.4 698.8,2000.7 701.3,2001.2 703.8,2001.8 706.3,2002.4 708.8,2003 711.3,2003.5 713.8,2003.9 716.3,2004.1 718.8,2004.1 721.3,2003.8 723.8,2003.2 726.3,2002.4 728.8,2001.4 731.3,2000.3 733.8,1999.2 736.3,1998.1 738.8,1997.1 741.3,1996.2 743.8,1995.5 746.3,1994.8 748.8,1994.4 751.3,1994.2 753.8,1994.2 756.3,1994.5 758.8,1995 761.3,1995.8 763.8,1996.8 766.3,1997.9 768.8,1999.1 771.3,2000.4 773.8,2001.7 776.3,2003 778.8,2004.3 781.3,2005.5 783.8,2006.5 786.3,2007.4 788.8,2008.1 791.3,2008.5 793.8,2008.7 796.3,2008.6 798.8,2008.3 801.3,2007.7 803.8,2006.8 806.3,2005.9 808.8,2004.8 811.3,2003.6 813.8,2002.5 816.3,2001.5 818.8,2000.4 821.3,1999.5 823.8,1998.7 826.3,1997.9 828.8,1997.4 831.3,1996.9 833.8,1996.7 836.3,1996.6 838.8,1996.7 841.3,1996.9 843.8,1997.2 846.3,1997.5 848.8,1997.7 851.3,1997.9 853.8,1997.9 856.3,1997.9 858.8,1997.9 861.3,1997.7 863.8,1997.6 866.3,1997.5 868.8,1997.3 871.3,1997.2 873.8,1997.1 876.3,1997.1 878.8,1997.1 881.3,1997.2 883.8,1997.5 886.3,1997.9 888.8,1998.5 891.3,1999.3 893.8,2000.3 896.3,2001.7 898.8,2003.3 901.3,2005.2 903.8,2007.1 906.3,2009.1 908.8,2010.9 911.3,2012.5 913.8,2013.8 916.3,2014.8 918.8,2015.3 921.3,2015.4 923.8,2014.9 926.3,2013.7 928.8,2011.8 931.3,2009.1 933.8,2005.3 936.3,2000.4 938.8,1994.2 941.3,1986.5 943.8,1977.9 946.3,1968.8 948.8,1959.8 951.3,1951.3 953.8,1943.3 956.3,1935.9 958.8,1929.2 961.3,1923.4 963.8,1918.5 966.3,1914.7 968.8,1912.2 971.3,1911 973.8,1911.3 976.3,1913.2 978.8,1916.9 981.3,1922.2 983.8,1929.2 986.3,1937.7 988.8,1947.6 991.3,1959 993.8,1971.4 996.3,1984.8 998.8,1998.8 1001.3,2013.2 1003.8,2027.6 1006.3,2041.9 1008.8,2055.7 1011.3,2068.9 1013.8,2081.1 1016.3,2092.1 1018.8,2101.7 1021.3,2109.6 1023.8,2115.5 1026.3,2119.4 1028.8,2121 1031.3,2120.3 1033.8,2117.2 1036.3,2111.8 1038.8,2104.3 1041.3,2095.2 1043.8,2085.1 1046.3,2074.1 1048.8,2062.1 1051.3,2049 1053.8,2035.3 1056.3,2021.9 1058.8,2009.8 1061.3,1999.3 1063.8,1990.2 1066.3,1982.5 1068.8,1976.1 1071.3,1971.1 1073.8,1967.2 1076.3,1964.4 1078.8,1962.7 1081.3,1962 1083.8,1962.2 1086.3,1963.3 1088.8,1965.1 1091.3,1967.7 1093.8,1971 1096.3,1974.8 1098.8,1978.9 1101.3,1983.3 1103.8,1987.6 1106.3,1991.7 1108.8,1995.4 1111.3,1998.5 1113.8,2000.8 1116.3,2002.7 1118.8,2004.1 1121.3,2005.2 1123.8,2006 1126.3,2006.6 1128.8,2006.7 1131.3,2006.4 1133.8,2005.7 1136.3,2004.7 1138.8,2003.5 1141.3,2002.3 1143.8,2000.9 1146.3,1999.5 1148.8,1998.1 1151.3,1996.8 1153.8,1995.4 1156.3,1994.2 1158.8,1993.1 1161.3,1992.1 1163.8,1991.3 1166.3,1990.6 1168.8,1990.1 1171.3,1989.7 1173.8,1989.3 1176.3,1988.8 1178.8,1988.3 1181.3,1987.8 1183.8,1987.1 1186.3,1986.4 1188.8,1985.6 1191.3,1984.6 1193.8,1983.5 1196.3,1982.3 1198.8,1981 1201.3,1979.5 1203.8,1978 1206.3,1976.3 1208.8,1974.7 1211.3,1973.2 1213.8,1971.8 1216.3,1970.7 1218.8,1969.9 1221.3,1969.4 1223.8,1969.4 1226.3,1969.9 1228.8,1970.9 1231.3,1972.6 1233.8,1974.9 1236.3,1977.8 1238.8,1981.2 1241.3,1984.9 1243.8,1988.8 1246.3,1992.9 1248.8,1997.1 1251.3,2001.1 1253.8,2005 1256.3,2008.6 1258.8,2011.9 1261.3,2014.8 1263.8,2017.3 1266.3,2019.4 1268.8,2021.1 1271.3,2022.4 1273.8,2023.3 1276.3,2023.7 1278.8,2023.6 1281.3,2023 1283.8,2021.9 1286.3,2020.4 1288.8,2018.3 1291.3,2015.7 1293.8,2012.7 1296.3,2009.5 1298.8,2006.1 1301.3,2002.6 1303.8,1999.1 1306.3,1995.8 1308.8,1992.8 1311.3,1990.1 1313.8,1987.8 1316.3,1986 1318.8,1984.7 1321.3,1983.9 1323.8,1983.6 1326.3,1983.8 1328.8,1984.4 1331.3,1985.6 1333.8,1987.2 1336.3,1989.3 1338.8,1991.7 1341.3,1994.3 1343.8,1997.1 1346.3,1999.9 1348.8,2002.8 1351.3,2005.5 1353.8,2007.9 1356.3,2010.1 1358.8,2011.9 1361.3,2013.4 1363.8,2014.4 1366.3,2015.1 1368.8,2015.4 1371.3,2015.5 1373.8,2015.2 1376.3,2014.6 1378.8,2013.8 1381.3,2012.7 1383.8,2011.4 1386.3,2009.9 1388.8,2008.2 1391.3,2006.3 1393.8,2004.2 1396.3,2002 1398.8,1999.8 1401.3,1997.5 1403.8,1995.3 1406.3,1993.1 1408.8,1991.2 1411.3,1989.5 1413.8,1988.1 1416.3,1987.1 1418.8,1986.5 1421.3,1986.3 1423.8,1986.5 1426.3,1987 1428.8,1987.8 1431.3,1988.8 1433.8,1990.1 1436.3,1991.5 1438.8,1993.1 1441.3,1994.9 1443.8,1996.6 1446.3,1998.5 1448.8,2000.3 1451.3,2002.1 1453.8,2003.8 1456.3,2005.4 1458.8,2006.9 1461.3,2008.2 1463.8,2009.2 1466.3,2010 1468.8,2010.5 1471.3,2010.7 1473.8,2010.5 1476.3,2010 1478.8,2009.1 1481.3,2008 1483.8,2006.6 1486.3,2005.2 1488.8,2003.7 1491.3,2002.2 1493.8,2000.8 1496.3,1999.6 1498.8,1998.5 1501.3,1997.6 1503.8,1996.8 1506.3,1996.3 1508.8,1996 1511.3,1995.8 1513.8,1995.9 1516.3,1996.1 1518.8,1996.5 1521.3,1997.1 1523.8,1997.9 1526.3,1998.8 1528.8,1999.9 1531.3,2001.1 1533.8,2002.4 1536.3,2003.7 1538.8,2005.1 1541.3,2006.4 1543.8,2007.4 1546.3,2008.1 1548.8,2008.2 1551.3,2007.6 1553.8,2006.3 1556.3,2004 1558.8,2000.8 1561.3,1996.4 1563.8,1990.9 1566.3,1984.3 1568.8,1976.9 1571.3,1968.9 1573.8,1960.7 1576.3,1952.4 1578.8,1944.4 1581.3,1937 1583.8,1930.5 1586.3,1925.2 1588.8,1921.1 1591.3,1918.5 1593.8,1917.3 1596.3,1918 1598.8,1921.6 1601.3,1928.5 1603.8,1938.6 1606.3,1951.1 1608.8,1965.7 1611.3,1981.3 1613.8,1996.9 1616.3,2011.4 1618.8,2024.2 1621.3,2035.9 1623.8,2047.3 1626.3,2058.1 1628.8,2068 1631.3,2076.9 1633.8,2084.5 1636.3,2090.4 1638.8,2094.7 1641.3,2097.3 1643.8,2097.9 1646.3,2096.6 1648.8,2093.1 1651.3,2087.6 1653.8,2080.4 1656.3,2071.8 1658.8,2062.3 1661.3,2052.3 1663.8,2042.1 1666.3,2032.4 1668.8,2023.5 1671.3,2014.3 1673.8,2003.1 1676.3,1990 1678.8,1976.1 1681.3,1962.4 1683.8,1949.9 1686.3,1939.1 1688.8,1930.7 1691.3,1925.4 1693.8,1923.7 1696.3,1925.5 1698.8,1930 1701.3,1936.4 1703.8,1944 1706.3,1952 1708.8,1959.7 1711.3,1966.4 1712.3,1968.6" fill="none" stroke="#000" stroke-width="3.2" stroke-linejoin="round" stroke-linecap="butt"/>
<rect x="1478.6" y="1911.8" width="222.4" height="100" rx="3" ry="3" fill="#FFAC00" fill-opacity="0.985"/>
<text transform="translate(1589.3,1936) scale(1.085,1)" font-family="'DejaVu Sans','Liberation Sans',sans-serif" font-size="20.6" text-anchor="middle" fill="#1a1200" xml:space="preserve">Ref.  &amp;  Det.</text>
<circle cx="1504.7" cy="1962.1" r="10.1" fill="none" stroke="#FF0000" stroke-width="4.2"/>
<text transform="translate(1541.5,1967.3) scale(0.945,1)" font-family="'DejaVu Sans','Liberation Sans',sans-serif" font-size="20.0" font-weight="bold" fill="#000">p1</text>
<path d="M1630,1953.9 1628,1959.9 1621.7,1959.9 1626.8,1963.6 1624.9,1969.6 1630,1965.9 1635.1,1969.6 1633.2,1963.6 1638.3,1959.9 1632,1959.9Z" fill="#FF0000" stroke="#FF0000" stroke-width="3.7" stroke-linejoin="round"/>
<text transform="translate(1666,1967.3) scale(0.945,1)" font-family="'DejaVu Sans','Liberation Sans',sans-serif" font-size="20.0" font-weight="bold" fill="#000">p1</text>
<rect x="1494.6" y="1982.7" width="20.2" height="20.2" fill="none" stroke="#0433FF" stroke-width="4.2" stroke-linejoin="round"/>
<text transform="translate(1541.5,1998) scale(0.945,1)" font-family="'DejaVu Sans','Liberation Sans',sans-serif" font-size="20.0" font-weight="bold" fill="#000">p2</text>
<path d="M1626.1,1985.5 1630,1989.4 1633.9,1985.5 1637.8,1989.4 1633.9,1993.3 1637.8,1997.2 1633.9,2001.2 1630,1997.2 1626.1,2001.2 1622.2,1997.2 1626.1,1993.3 1622.2,1989.4Z" fill="#0433FF" stroke="#0433FF" stroke-width="4.0" stroke-linejoin="round"/>
<text transform="translate(1666,1998) scale(0.945,1)" font-family="'DejaVu Sans','Liberation Sans',sans-serif" font-size="20.0" font-weight="bold" fill="#000">p2</text>
</g>
<rect x="223.8" y="1901.2" width="1488.5" height="234.3" fill="none" stroke="#000" stroke-width="1.7"/>
<text transform="translate(197.4,2023.3) rotate(-90)" font-family="'DejaVu Sans','Liberation Sans',sans-serif" font-size="44" text-anchor="middle" fill="#000">PPG'''</text>
<rect x="3.9" y="1902.3" width="132.4" height="90.4" fill="#FFFA4D" stroke="#55511a" stroke-width="1.6"/>
<text x="14.6" y="1928" font-family="'DejaVu Sans','Liberation Sans',sans-serif" font-size="19.8" fill="#14140a">Dist. errors</text>
<text x="27" y="1951.9" font-family="'DejaVu Sans','Liberation Sans',sans-serif" font-size="19.8" fill="#14140a">p1: 3</text>
<text x="27" y="1975.8" font-family="'DejaVu Sans','Liberation Sans',sans-serif" font-size="19.8" fill="#14140a">p2: 5</text>
<line x1="223.8" y1="2135.5" x2="223.8" y2="2143.8" stroke="#000" stroke-width="1.3"/>
<text x="223.8" y="2184.9" font-family="'DejaVu Sans','Liberation Sans',sans-serif" font-size="43" text-anchor="middle" fill="#000">0</text>
<line x1="968" y1="2135.5" x2="968" y2="2143.8" stroke="#000" stroke-width="1.3"/>
<text x="968" y="2184.9" font-family="'DejaVu Sans','Liberation Sans',sans-serif" font-size="43" text-anchor="middle" fill="#000">1</text>
<text x="967.2" y="2239.3" font-family="'DejaVu Sans','Liberation Sans',sans-serif" font-size="44" text-anchor="middle" fill="#000">Time [s]</text>
<rect x="3.9" y="2124.5" width="138.5" height="66.9" fill="#FF4D4D" stroke="#7a2a2a" stroke-width="1.6"/>
<text x="13.7" y="2150.8" font-family="'DejaVu Sans','Liberation Sans',sans-serif" font-size="19.85" font-weight="bold" fill="#fff">MAE(SD):</text>
<text x="13.7" y="2174.7" font-family="'DejaVu Sans','Liberation Sans',sans-serif" font-size="19.85" font-weight="bold" fill="#fff">9.43(21.0)</text>
</svg>
</body></html>
